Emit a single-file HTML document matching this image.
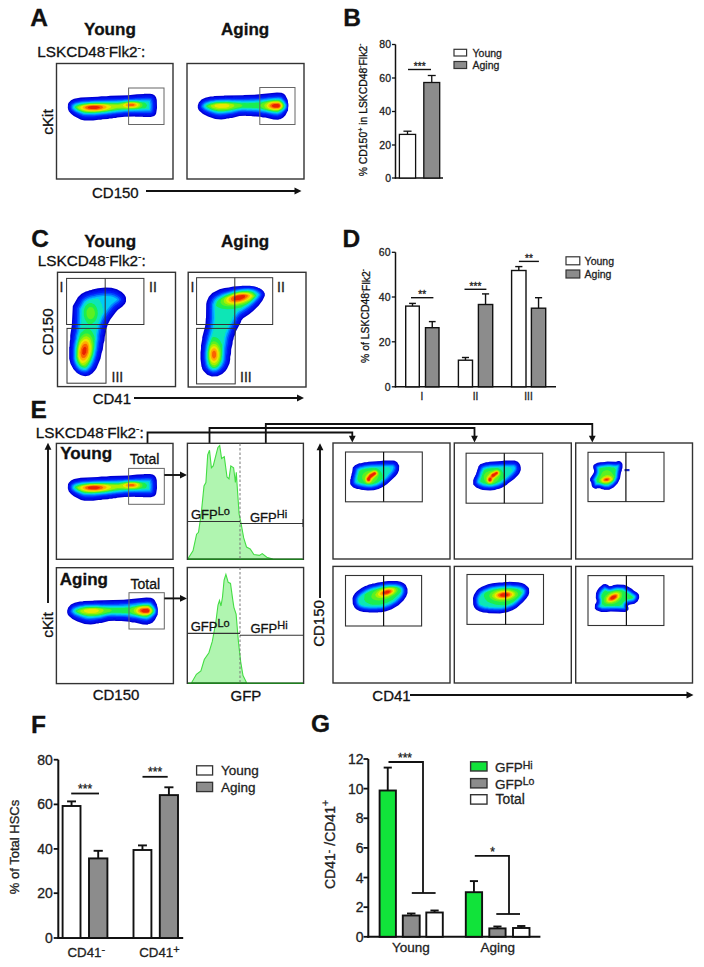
<!DOCTYPE html><html><head><meta charset="utf-8"><style>
html,body{margin:0;padding:0;background:#fff;}
body{width:704px;height:967px;overflow:hidden;}
svg{display:block;font-family:"Liberation Sans", sans-serif;}
</style></head><body>
<svg width="704" height="967" viewBox="0 0 704 967">
<defs><filter id="soft" x="-10%" y="-10%" width="120%" height="120%"><feGaussianBlur stdDeviation="0.45"/></filter></defs>
<rect width="704" height="967" fill="#fff"/>
<text x="30.2" y="26.3" font-size="24.5" font-weight="bold" text-anchor="start" fill="#111" stroke="#111" stroke-width="0.3" >A</text>
<text x="84" y="35" font-size="17.1" font-weight="bold" text-anchor="start" fill="#111" stroke="#111" stroke-width="0.3" >Young</text>
<text x="221" y="35" font-size="17" font-weight="bold" text-anchor="start" fill="#111" stroke="#111" stroke-width="0.3" >Aging</text>
<text x="37.3" y="56.8" font-size="15.3" text-anchor="start" fill="#111" stroke="#111" stroke-width="0.3" >LSKCD48<tspan font-size="10.1" dy="-6.1">-</tspan><tspan dy="6.1">Flk2</tspan><tspan font-size="10.1" dy="-6.1">-</tspan><tspan dy="6.1">:</tspan></text>
<rect x="56.5" y="63.5" width="116.5" height="115.5" fill="none" stroke="#333" stroke-width="1.4"/>
<rect x="187" y="63.5" width="117" height="115.5" fill="none" stroke="#333" stroke-width="1.4"/>
<g><g filter="url(#soft)"><path fill="rgb(0, 0, 210)" d="M156.8 100.0 156.0 97.2 154.8 95.5 152.8 94.2 150.0 93.8 144.0 93.8 143.8 94.0 137.0 94.2 128.2 95.2 110.2 95.8 106.5 96.2 101.5 96.2 97.8 96.8 80.8 97.5 74.0 98.8 71.0 100.2 68.8 102.5 68.0 104.0 67.8 108.0 68.8 111.2 71.0 113.8 73.8 116.0 81.0 119.8 84.5 120.5 93.2 120.5 98.5 119.8 101.0 119.8 102.5 119.2 108.0 119.0 109.5 118.5 112.0 118.5 113.5 118.0 115.8 118.0 117.2 117.5 124.8 116.8 135.0 116.5 135.2 116.8 142.8 116.8 143.0 117.0 150.8 117.0 154.2 116.0 155.5 114.8 156.2 113.2 157.0 108.0Z"/>
<path fill="rgb(0, 16, 234)" fill-rule="evenodd" d="M156.0 103.5 155.5 102.8 155.5 100.5 154.2 97.0 152.8 95.8 149.5 95.0 144.5 95.0 144.2 95.2 137.5 95.5 128.8 96.5 90.0 98.0 74.5 99.8 71.5 101.2 69.2 103.2 68.2 105.2 68.5 109.2 69.5 111.0 73.2 114.2 73.8 114.2 74.5 115.0 79.2 117.5 82.2 118.8 85.0 119.2 92.8 119.2 98.0 118.5 100.5 118.5 102.0 118.0 107.5 117.8 109.0 117.2 111.5 117.2 113.0 116.8 115.2 116.8 116.8 116.2 124.5 115.5 129.2 115.5 129.5 115.2 143.2 115.5 143.5 115.8 151.8 115.5 152.5 115.0 153.2 115.0 155.0 112.8 156.0 107.5Z"/>
<path fill="rgb(0, 27, 250)" fill-rule="evenodd" d="M154.5 103.5 154.0 100.0 153.0 97.8 151.5 96.8 149.8 96.5 144.2 96.5 140.8 97.0 137.0 97.0 136.8 97.2 129.2 97.5 129.0 97.8 123.8 97.8 123.5 98.0 93.8 99.0 93.5 99.2 81.8 99.8 74.2 101.2 71.8 102.5 70.2 104.0 69.5 105.5 69.5 108.0 70.2 110.0 74.0 113.2 82.2 117.2 84.8 117.8 93.0 117.8 98.5 117.0 101.0 117.0 102.5 116.5 111.0 116.0 112.5 115.5 114.8 115.5 116.5 115.0 124.2 114.2 128.8 114.2 129.0 114.0 150.5 114.2 152.5 113.8 153.8 112.0 154.5 107.8Z"/>
<path fill="rgb(0, 76, 255)" fill-rule="evenodd" d="M153.2 104.0 152.8 102.8 152.8 100.8 152.2 100.0 152.2 99.2 151.2 98.2 148.0 97.8 145.0 97.8 144.8 98.0 135.5 98.2 132.0 98.8 126.2 98.8 123.0 99.2 93.8 100.0 93.5 100.2 89.2 100.2 89.0 100.5 85.2 100.5 80.8 101.0 75.5 102.0 72.8 103.2 71.2 104.5 70.5 107.0 71.2 109.5 72.8 111.0 79.5 114.8 82.8 116.0 85.2 116.5 92.8 116.5 103.8 115.2 106.8 115.2 108.5 114.8 111.0 114.8 112.8 114.2 115.0 114.2 116.8 113.8 121.8 113.5 124.5 113.0 129.2 113.0 129.5 112.8 150.0 113.0 152.0 112.5 152.5 111.5 153.2 107.2Z"/>
<path fill="rgb(0, 141, 255)" fill-rule="evenodd" d="M151.8 103.5 150.8 99.5 149.5 99.2 141.0 99.2 140.8 99.5 135.2 99.2 135.0 99.5 124.5 99.8 122.2 100.2 117.5 100.2 117.2 100.5 91.8 101.0 91.5 101.2 81.8 101.8 75.0 103.2 72.5 104.8 71.8 106.0 71.8 107.8 72.2 109.0 75.2 111.5 83.5 115.0 94.8 115.2 124.0 112.0 134.0 111.8 134.2 111.5 135.5 111.8 150.2 111.5 151.0 111.2 151.5 109.8Z"/>
<path fill="rgb(0, 202, 248)" fill-rule="evenodd" d="M150.5 104.0 150.0 102.8 150.0 101.2 149.8 100.8 149.0 100.5 128.8 100.2 119.5 101.2 90.5 101.8 90.2 102.0 82.2 102.5 76.2 103.8 73.8 105.0 72.8 107.0 73.2 108.5 75.8 110.8 80.0 112.8 83.8 114.0 95.2 114.2 95.5 114.0 106.5 113.2 108.5 112.8 110.8 112.8 112.5 112.2 114.8 112.2 116.5 111.8 121.5 111.5 124.2 111.0 149.8 110.2 150.5 107.5Z"/>
<path fill="rgb(10, 230, 182)" fill-rule="evenodd" d="M149.2 104.2 148.5 101.8 142.2 101.5 136.2 100.8 129.5 100.8 117.5 102.2 93.5 102.2 93.2 102.5 86.0 102.8 78.5 104.0 74.8 105.5 74.0 106.2 74.2 108.2 77.0 110.5 83.2 113.0 85.8 113.5 95.2 113.5 95.5 113.2 103.8 112.8 119.8 110.5 139.0 109.8 141.8 109.2 148.8 109.0 149.2 107.2Z"/>
<path fill="rgb(27, 238, 80)" fill-rule="evenodd" d="M147.0 105.5 146.5 104.2 145.0 102.8 139.5 102.0 138.0 101.5 130.2 101.2 117.8 103.0 94.5 102.8 94.2 103.0 89.5 103.0 85.0 103.5 79.5 104.5 75.8 106.0 75.0 106.8 75.0 107.5 77.8 110.0 82.5 112.0 85.5 112.8 92.2 113.0 92.5 112.8 100.0 112.5 102.0 112.0 104.2 112.0 109.5 111.0 111.5 111.0 113.2 110.5 122.0 109.5 129.2 109.5 129.5 109.2 134.8 109.2 135.0 109.0 136.2 109.2 142.0 108.2 144.8 108.2 146.2 107.2Z"/>
<path fill="rgb(92, 240, 34)" fill-rule="evenodd" d="M142.5 104.2 141.2 103.0 134.2 101.8 128.0 102.0 118.2 103.8 108.5 103.8 108.2 103.5 106.5 103.8 106.2 103.5 99.5 103.5 99.2 103.2 98.5 103.5 90.0 103.5 87.5 104.0 85.2 104.0 79.5 105.2 76.8 106.5 76.2 107.5 78.5 109.5 81.5 111.0 84.8 112.0 95.5 112.2 107.0 111.0 108.5 110.5 118.8 109.0 133.5 108.8 138.5 108.2 141.2 107.2 142.5 106.0Z"/>
<path fill="rgb(168, 240, 1)" fill-rule="evenodd" d="M140.2 104.5 138.8 103.0 134.2 102.2 129.8 102.2 128.0 102.8 126.5 102.8 118.2 104.8 109.2 104.5 104.5 104.0 90.0 104.0 82.0 105.2 77.8 107.0 77.8 107.8 79.5 109.2 82.8 110.8 88.0 111.8 95.5 111.8 107.5 110.2 117.5 107.8 122.2 107.8 126.2 108.2 136.0 108.0 137.8 107.5 139.5 106.5 140.2 105.5Z"/>
<path fill="rgb(236, 232, 0)" fill-rule="evenodd" d="M80.2 107.8 81.2 109.0 85.5 110.5 88.5 111.0 95.0 111.2 95.2 111.0 100.5 110.8 106.2 109.5 110.5 107.8 111.2 106.8 110.5 106.0 107.8 105.0 103.2 104.5 94.0 104.2 93.8 104.5 89.8 104.5 82.8 105.8 80.8 106.5ZM123.0 105.8 123.8 106.5 125.8 107.2 129.0 107.8 132.5 107.8 135.5 107.2 137.8 106.2 138.5 105.2 138.5 104.5 137.5 103.5 136.2 103.0 129.5 102.8 124.2 104.0 123.0 105.0Z"/>
<path fill="rgb(255, 173, 0)" fill-rule="evenodd" d="M82.8 108.0 84.5 109.2 88.2 110.2 96.2 110.5 102.5 109.5 105.8 108.2 106.8 107.0 105.2 105.8 102.2 105.0 93.5 104.8 93.2 105.0 89.5 105.0 85.2 105.8 83.2 106.5 82.8 107.0ZM125.8 104.8 125.8 105.5 126.2 106.0 129.8 107.0 134.0 106.8 136.0 106.0 136.8 105.2 136.0 103.8 134.2 103.2 129.5 103.2 126.5 104.0Z"/>
<path fill="rgb(250, 99, 0)" fill-rule="evenodd" d="M85.0 107.8 85.8 108.5 88.5 109.5 96.8 109.8 102.0 108.5 103.2 107.5 103.2 107.0 101.8 106.0 99.8 105.5 93.2 105.2 87.0 106.0 85.5 106.8ZM128.2 104.8 128.2 105.2 129.5 106.0 133.2 106.0 134.8 105.0 134.2 104.2 133.0 103.8 130.0 103.8Z"/>
<path fill="rgb(233, 33, 0)" fill-rule="evenodd" d="M87.8 107.5 88.2 108.2 91.0 109.0 96.0 109.0 99.5 108.0 99.8 107.0 96.8 106.0 91.2 106.0 89.0 106.5 88.0 107.0Z"/></g></g>
<g><g filter="url(#soft)"><path fill="rgb(0, 0, 210)" d="M288.2 103.8 287.5 99.5 285.2 95.0 283.8 93.8 281.5 92.8 277.0 92.5 254.2 94.8 243.8 95.0 243.5 95.2 224.2 95.5 224.0 95.8 214.5 96.0 213.0 96.5 210.5 96.5 205.2 97.8 201.5 99.5 198.8 102.5 197.8 105.5 197.8 107.8 198.5 109.8 199.5 111.0 203.0 114.0 208.0 116.5 215.2 119.0 221.2 119.5 225.5 119.0 227.0 118.5 228.8 118.5 230.0 118.0 232.0 118.0 239.5 116.0 245.8 115.8 246.0 116.0 251.5 116.0 251.8 116.2 260.2 116.8 263.0 117.5 265.2 117.5 273.5 119.5 278.2 119.8 279.2 119.2 280.2 119.2 283.0 117.8 285.5 115.2 288.0 110.2Z"/>
<path fill="rgb(0, 16, 234)" fill-rule="evenodd" d="M288.2 103.8 287.5 100.5 284.2 95.8 281.0 94.0 277.5 93.8 254.8 96.0 244.2 96.2 244.0 96.5 233.2 96.5 233.0 96.8 224.8 96.5 224.5 96.8 215.0 97.0 213.5 97.5 211.0 97.5 204.2 99.2 201.2 101.0 199.0 104.0 198.5 105.8 198.5 107.2 199.2 109.2 202.8 112.5 207.8 115.0 215.8 117.8 220.8 118.2 225.0 117.8 226.5 117.2 228.2 117.2 229.5 116.8 231.5 116.8 239.0 114.8 246.2 114.5 246.5 114.8 252.0 114.8 252.2 115.0 260.8 115.5 263.5 116.2 265.8 116.2 274.0 118.2 277.8 118.5 278.8 118.0 279.8 118.0 282.5 116.5 288.0 110.2Z"/>
<path fill="rgb(0, 27, 250)" fill-rule="evenodd" d="M288.2 104.8 286.2 100.5 283.0 96.5 280.8 95.5 277.0 95.2 276.8 95.5 269.0 95.8 260.2 97.0 244.5 97.5 244.2 97.8 233.2 97.8 233.0 98.0 224.8 97.8 224.5 98.0 219.2 98.0 219.0 98.2 214.8 98.2 213.0 98.8 210.8 98.8 205.5 100.0 202.5 101.5 200.5 103.8 199.8 107.0 200.5 108.8 204.0 111.8 208.8 114.0 212.2 115.2 214.0 115.5 215.5 116.2 221.0 116.8 225.5 116.2 230.0 115.2 231.8 115.2 238.8 113.5 246.8 113.2 247.0 113.5 260.2 114.0 263.0 114.8 265.0 114.8 269.0 115.5 273.8 116.8 277.8 117.0 281.5 115.5 285.8 111.5 287.8 108.5 288.2 106.5Z"/>
<path fill="rgb(0, 76, 255)" fill-rule="evenodd" d="M287.2 104.2 285.2 100.8 282.2 97.5 280.8 96.8 275.8 96.5 275.5 96.8 269.0 97.0 265.5 97.8 263.0 97.8 257.8 98.5 250.2 98.5 250.0 98.8 244.5 98.8 244.2 99.0 224.8 98.8 224.5 99.0 219.2 99.0 219.0 99.2 214.8 99.2 213.0 99.8 211.0 99.8 206.0 101.0 203.5 102.2 201.8 104.0 201.0 106.0 201.0 107.0 201.5 108.0 204.2 110.5 207.2 112.0 213.2 114.2 217.8 115.2 220.5 115.5 225.0 115.0 230.0 114.0 231.8 114.0 239.0 112.2 246.8 112.0 247.0 112.2 255.2 112.2 260.2 112.8 263.2 113.5 265.2 113.5 274.0 115.5 277.2 115.8 279.2 115.2 281.5 114.0 286.0 109.8 287.2 107.2Z"/>
<path fill="rgb(0, 141, 255)" fill-rule="evenodd" d="M286.5 104.8 284.8 101.5 281.5 98.2 280.2 97.8 277.5 97.5 277.2 97.8 268.2 98.2 262.0 99.2 249.8 99.8 249.5 100.0 243.8 100.0 243.5 100.2 242.8 100.0 230.5 100.0 230.2 99.8 215.5 100.0 214.0 100.5 209.8 101.0 204.8 102.8 203.0 104.2 202.2 105.8 202.2 107.0 204.8 109.5 208.2 111.2 216.0 113.8 220.0 114.2 231.0 113.0 238.2 111.2 242.2 110.8 246.0 110.8 246.2 111.0 252.5 111.0 252.8 111.2 259.2 111.5 264.0 112.5 265.8 112.5 273.5 114.2 277.5 114.5 279.2 114.0 281.5 112.8 284.8 110.0 286.2 107.8Z"/>
<path fill="rgb(0, 202, 248)" fill-rule="evenodd" d="M285.8 105.0 283.8 101.5 281.2 99.2 278.8 98.5 274.2 98.5 266.2 99.8 264.2 99.8 261.0 100.5 254.5 100.8 254.2 101.0 241.0 101.2 240.8 101.0 235.5 101.0 235.2 100.8 232.8 101.0 228.0 100.5 216.5 100.8 213.0 101.5 211.2 101.5 206.5 103.0 204.2 104.5 203.8 105.2 203.5 106.8 205.5 108.8 208.5 110.2 214.2 112.2 218.0 113.0 223.0 113.0 231.0 112.0 235.5 110.8 242.0 109.8 246.8 109.8 247.0 110.0 251.5 109.8 251.8 110.0 255.8 110.0 260.5 110.5 272.0 113.0 277.5 113.5 281.8 111.5 284.8 108.8 285.5 107.5Z"/>
<path fill="rgb(10, 230, 182)" fill-rule="evenodd" d="M285.0 105.0 284.0 103.0 281.5 100.5 280.0 99.5 275.2 99.2 268.2 100.0 265.8 100.8 264.0 100.8 261.0 101.5 255.0 101.8 254.8 102.0 241.2 102.2 241.0 102.0 231.8 101.8 227.8 101.2 216.5 101.5 213.2 102.2 211.8 102.2 206.2 104.2 204.8 105.8 204.8 106.5 206.2 108.0 210.2 110.0 214.0 111.2 220.0 112.2 228.0 111.5 241.8 108.8 252.0 108.8 252.2 109.0 256.0 109.0 260.5 109.5 271.0 112.0 276.8 112.8 278.8 112.2 282.2 110.2 284.2 108.2 285.0 106.5Z"/>
<path fill="rgb(27, 238, 80)" fill-rule="evenodd" d="M284.2 105.2 282.8 102.5 279.8 100.2 273.8 100.0 268.2 100.8 261.0 102.5 255.5 102.8 255.2 103.0 249.5 103.0 249.2 103.2 246.0 103.2 245.8 103.0 241.2 103.2 228.2 102.0 216.0 102.2 209.8 103.8 206.8 105.2 206.0 106.2 207.8 107.8 210.8 109.2 213.5 110.2 218.0 111.2 223.2 111.2 227.8 110.8 241.8 107.8 252.2 107.8 252.5 108.0 256.2 108.0 260.5 108.5 269.8 111.0 277.0 112.0 278.8 111.5 282.5 109.2 284.0 107.2Z"/>
<path fill="rgb(92, 240, 34)" fill-rule="evenodd" d="M242.5 105.2 240.2 104.0 225.2 102.5 225.0 102.8 215.8 103.0 211.0 104.2 207.8 106.0 207.8 106.5 211.8 108.8 215.5 110.0 216.8 110.0 218.0 110.5 223.2 110.5 230.5 109.5 238.8 107.2 239.8 107.2 242.0 106.2ZM283.5 105.0 282.5 103.2 281.2 102.0 279.2 100.8 275.5 100.5 269.2 101.2 263.2 102.8 260.8 104.2 260.0 105.0 260.0 106.0 261.0 107.0 264.0 108.8 273.0 111.0 277.2 111.2 281.5 109.2 283.2 107.2Z"/>
<path fill="rgb(168, 240, 1)" fill-rule="evenodd" d="M210.8 105.5 211.0 106.5 213.0 108.0 218.5 109.2 227.0 109.0 231.8 107.8 234.2 106.2 234.2 105.0 233.2 104.2 226.0 103.2 220.2 103.2 215.8 103.8ZM264.2 105.2 264.8 107.0 266.2 108.2 269.0 109.5 273.5 110.5 278.5 110.2 281.5 108.5 282.8 106.5 282.8 105.0 282.2 104.0 280.5 102.2 278.8 101.2 273.2 101.2 268.8 102.0 266.0 103.2 264.8 104.2Z"/>
<path fill="rgb(236, 232, 0)" fill-rule="evenodd" d="M214.5 105.5 214.5 106.0 215.5 107.0 219.2 108.0 225.8 107.8 228.2 107.0 229.5 106.0 229.2 105.0 228.5 104.5 225.8 104.0 220.0 104.0 215.2 104.8ZM266.5 105.2 267.0 107.0 268.2 108.0 269.8 108.8 273.5 109.8 278.2 109.8 280.5 108.5 282.0 106.5 282.0 105.0 281.2 103.8 278.5 101.8 273.2 101.8 271.0 102.2 268.5 103.2Z"/>
<path fill="rgb(255, 173, 0)" fill-rule="evenodd" d="M268.5 105.0 268.5 106.5 269.5 107.5 271.5 108.5 273.8 109.0 278.5 109.0 280.2 108.0 281.2 106.2 281.0 104.5 279.5 103.0 278.5 102.5 272.2 102.8 269.8 103.8Z"/>
<path fill="rgb(250, 99, 0)" fill-rule="evenodd" d="M270.0 105.8 270.8 107.0 273.8 108.2 279.2 108.0 280.5 106.2 280.5 105.2 280.0 104.2 279.2 103.5 278.2 103.2 272.8 103.5 271.0 104.2Z"/>
<path fill="rgb(233, 33, 0)" fill-rule="evenodd" d="M272.0 105.2 272.0 106.2 272.5 106.8 274.5 107.5 277.8 107.5 279.5 106.8 279.8 105.8 279.5 104.8 277.8 104.0 274.2 104.0Z"/></g></g>
<rect x="128.6" y="88" width="35.400000000000006" height="36.5" fill="none" stroke="#666" stroke-width="1"/>
<rect x="259.8" y="87.5" width="35.19999999999999" height="37.0" fill="none" stroke="#666" stroke-width="1"/>
<text transform="translate(47.8,122) rotate(-90)" font-size="15.3" text-anchor="middle" dominant-baseline="central" fill="#111" stroke="#111" stroke-width="0.3">cKit</text>
<text x="92" y="198" font-size="15" text-anchor="start" fill="#111" stroke="#111" stroke-width="0.3" >CD150</text>
<line x1="146" y1="191" x2="295.5" y2="191" stroke="#111" stroke-width="1.9" />
<path d="M301.5 191 L294.5 187.6 L294.5 194.4 Z" fill="#111"/>
<text x="343.2" y="26.3" font-size="24.5" font-weight="bold" text-anchor="start" fill="#111" stroke="#111" stroke-width="0.3" >B</text>
<line x1="395.5" y1="44.5" x2="395.5" y2="178.7" stroke="#111" stroke-width="1.5" />
<line x1="394.8" y1="178" x2="443" y2="178" stroke="#111" stroke-width="1.5" />
<line x1="392" y1="44.5" x2="395.5" y2="44.5" stroke="#111" stroke-width="1.3" />
<text x="391" y="48.3" font-size="10.5" text-anchor="end" fill="#222" stroke="#222" stroke-width="0.3" >80</text>
<line x1="392" y1="78" x2="395.5" y2="78" stroke="#111" stroke-width="1.3" />
<text x="391" y="81.8" font-size="10.5" text-anchor="end" fill="#222" stroke="#222" stroke-width="0.3" >60</text>
<line x1="392" y1="111.5" x2="395.5" y2="111.5" stroke="#111" stroke-width="1.3" />
<text x="391" y="115.3" font-size="10.5" text-anchor="end" fill="#222" stroke="#222" stroke-width="0.3" >40</text>
<line x1="392" y1="145" x2="395.5" y2="145" stroke="#111" stroke-width="1.3" />
<text x="391" y="148.8" font-size="10.5" text-anchor="end" fill="#222" stroke="#222" stroke-width="0.3" >20</text>
<line x1="392" y1="178" x2="395.5" y2="178" stroke="#111" stroke-width="1.3" />
<text x="391" y="181.8" font-size="10.5" text-anchor="end" fill="#222" stroke="#222" stroke-width="0.3" >0</text>
<line x1="407.5" y1="134.4" x2="407.5" y2="131.2" stroke="#111" stroke-width="1.3" />
<line x1="403.45" y1="131.2" x2="411.55" y2="131.2" stroke="#111" stroke-width="1.3" />
<rect x="399.4" y="134.4" width="16.200000000000045" height="43.599999999999994" fill="#fff" stroke="#111" stroke-width="1.3"/>
<line x1="431.75" y1="82.5" x2="431.75" y2="75.5" stroke="#111" stroke-width="1.3" />
<line x1="427.775" y1="75.5" x2="435.725" y2="75.5" stroke="#111" stroke-width="1.3" />
<rect x="423.8" y="82.5" width="15.899999999999977" height="95.5" fill="#8c8c8c" stroke="#111" stroke-width="1.3"/>
<line x1="408" y1="69.5" x2="431" y2="69.5" stroke="#111" stroke-width="1.4" />
<text x="419.7" y="70" font-size="10" text-anchor="middle" fill="#222" stroke="#222" stroke-width="0.3" >***</text>
<rect x="454" y="49.3" width="12.600000000000023" height="6.700000000000003" fill="#fff" stroke="#333" stroke-width="1.2"/>
<rect x="454" y="61.5" width="12.600000000000023" height="7.0" fill="#8c8c8c" stroke="#333" stroke-width="1.2"/>
<text x="472.5" y="56.5" font-size="10.5" text-anchor="start" fill="#222" stroke="#222" stroke-width="0.3" >Young</text>
<text x="472.5" y="68.7" font-size="10.5" text-anchor="start" fill="#222" stroke="#222" stroke-width="0.3" >Aging</text>
<text transform="translate(363.3,110) rotate(-90)" font-size="10.4" text-anchor="middle" dominant-baseline="central" fill="#111" stroke="#111" stroke-width="0.3">% CD150<tspan font-size="7" dy="-3.8">+</tspan><tspan dy="3.8"> in </tspan>LSKCD48<tspan font-size="6.4" dy="-4.0">-</tspan><tspan dy="4.0">Flk2</tspan><tspan font-size="6.4" dy="-4.0">-</tspan></text>
<text x="31.2" y="247" font-size="24.5" font-weight="bold" text-anchor="start" fill="#111" stroke="#111" stroke-width="0.3" >C</text>
<text x="84.2" y="247" font-size="17.1" font-weight="bold" text-anchor="start" fill="#111" stroke="#111" stroke-width="0.3" >Young</text>
<text x="221" y="247" font-size="17" font-weight="bold" text-anchor="start" fill="#111" stroke="#111" stroke-width="0.3" >Aging</text>
<text x="37.8" y="266" font-size="15.3" text-anchor="start" fill="#111" stroke="#111" stroke-width="0.3" >LSKCD48<tspan font-size="10.1" dy="-6.1">-</tspan><tspan dy="6.1">Flk2</tspan><tspan font-size="10.1" dy="-6.1">-</tspan><tspan dy="6.1">:</tspan></text>
<rect x="57.5" y="272.3" width="118.0" height="114.30000000000001" fill="none" stroke="#333" stroke-width="1.4"/>
<rect x="188.2" y="272.3" width="117.80000000000001" height="114.69999999999999" fill="none" stroke="#333" stroke-width="1.4"/>
<g><g filter="url(#soft)"><path fill="rgb(0, 0, 210)" d="M117.0 289.2 111.5 287.8 105.5 287.5 98.0 288.2 92.2 289.5 91.5 290.0 89.5 290.2 88.0 291.0 85.8 291.5 81.5 293.8 78.0 297.0 72.8 306.0 71.8 325.2 70.2 335.5 70.2 339.2 69.8 341.2 69.5 346.8 69.2 347.0 69.2 358.8 70.5 363.8 73.5 369.2 77.0 373.0 81.0 375.2 85.2 376.2 89.2 375.5 92.5 373.2 95.2 370.2 96.5 368.2 100.5 358.8 101.5 353.5 102.8 349.5 103.5 343.8 104.5 340.5 104.8 336.8 106.0 331.8 106.0 330.0 108.0 324.0 110.2 319.8 115.8 312.2 118.0 309.8 122.2 306.8 125.0 303.8 126.0 301.5 126.0 298.2 125.8 297.0 124.5 294.8 121.8 292.0Z"/>
<path fill="rgb(0, 16, 234)" fill-rule="evenodd" d="M116.2 290.8 110.8 289.2 106.2 289.0 98.8 289.8 93.0 291.0 91.2 291.8 90.0 291.8 88.5 292.5 86.2 293.0 83.2 294.5 79.5 297.8 74.2 306.8 73.2 326.0 72.5 329.8 72.5 331.8 70.8 343.8 70.8 346.8 70.2 349.0 70.2 358.5 71.5 364.0 74.2 369.5 77.2 372.8 80.2 374.5 83.0 375.2 86.2 375.2 88.8 374.5 91.8 372.2 94.2 369.2 97.2 363.2 99.8 355.8 100.0 353.5 101.5 348.0 102.2 342.2 103.0 340.0 103.2 336.0 104.5 331.0 104.5 329.2 106.5 323.2 108.8 319.0 114.2 311.5 117.2 308.2 121.5 305.2 124.0 302.0 124.5 300.8 124.2 297.8 123.0 295.5 121.0 293.5Z"/>
<path fill="rgb(0, 27, 250)" fill-rule="evenodd" d="M115.5 292.2 110.8 291.0 106.2 290.8 98.5 291.5 97.2 292.0 93.8 292.5 93.0 293.0 91.0 293.2 87.0 294.5 84.0 296.0 81.0 298.5 75.8 307.5 75.0 325.5 73.2 335.8 72.5 343.0 72.0 344.5 71.8 350.8 71.5 351.0 71.5 358.2 72.5 363.2 74.2 367.0 76.2 370.0 77.8 371.5 80.2 373.0 84.5 374.0 86.5 373.8 88.5 373.0 93.0 368.5 95.0 364.8 96.8 360.5 98.5 354.5 98.8 352.2 100.0 347.8 100.5 343.0 101.2 340.8 101.5 336.8 102.8 331.2 102.8 329.5 105.0 322.5 109.5 314.8 113.0 310.2 116.0 307.0 120.2 304.0 122.2 301.8 122.8 300.5 122.5 298.0 121.0 295.8 117.5 293.2Z"/>
<path fill="rgb(0, 76, 255)" fill-rule="evenodd" d="M114.5 293.8 110.8 292.8 107.0 292.8 106.8 292.5 102.8 292.8 94.5 294.0 93.8 294.5 91.5 294.8 87.5 296.0 85.0 297.2 82.2 299.5 77.2 308.2 77.0 321.8 75.8 331.2 74.5 336.8 74.5 339.2 73.2 344.8 73.2 347.0 72.8 349.5 72.8 358.8 74.0 363.8 76.0 367.8 78.5 370.5 80.8 371.8 83.2 372.5 86.0 372.5 88.2 371.5 90.0 370.0 91.8 367.8 94.8 362.0 97.2 354.0 97.5 351.5 98.0 350.5 98.8 346.8 98.8 345.0 100.0 338.8 100.0 336.2 101.2 330.5 101.2 328.8 103.5 321.8 106.0 317.0 112.0 308.8 114.5 306.0 118.8 303.0 121.0 300.2 121.0 299.0 120.0 297.2 117.0 295.0Z"/>
<path fill="rgb(0, 141, 255)" fill-rule="evenodd" d="M114.2 295.5 110.8 294.5 105.8 294.2 96.5 295.2 94.5 296.0 92.0 296.2 88.8 297.2 85.2 299.0 83.0 301.0 80.5 306.0 79.0 308.2 78.2 325.5 77.2 329.8 77.2 331.2 76.0 336.0 75.8 339.2 75.2 340.2 74.5 344.0 73.8 350.5 73.8 358.5 74.8 362.8 76.8 366.8 79.2 369.5 81.5 370.8 83.8 371.2 85.8 371.2 87.5 370.5 90.2 367.8 91.8 365.5 93.5 361.8 95.5 356.0 96.8 350.5 97.8 342.5 98.5 339.5 98.5 336.2 99.8 328.2 100.5 325.0 102.0 321.0 105.8 314.2 110.2 308.2 114.0 304.2 118.2 301.2 119.2 300.0 119.2 299.2 117.8 297.5Z"/>
<path fill="rgb(0, 202, 248)" fill-rule="evenodd" d="M113.2 297.0 110.8 296.2 103.5 296.0 96.0 297.0 95.0 297.5 92.2 297.8 91.5 298.2 89.5 298.5 86.8 299.8 84.2 301.8 80.2 309.0 80.2 312.5 80.0 312.8 80.2 318.5 80.0 318.8 79.8 325.8 78.2 333.0 77.2 336.0 77.0 338.5 76.2 340.8 75.0 347.5 74.8 358.5 75.2 361.2 76.8 364.8 79.5 368.2 81.8 369.5 83.5 370.0 85.8 370.0 86.8 369.5 89.8 366.5 92.5 361.2 94.5 355.5 96.2 347.0 96.5 342.5 97.2 338.5 97.2 335.0 98.8 325.8 102.5 316.5 105.8 311.2 111.2 304.5 117.2 299.8 116.5 298.8Z"/>
<path fill="rgb(10, 230, 182)" fill-rule="evenodd" d="M98.0 298.5 93.5 299.0 91.5 299.8 89.5 300.0 86.5 301.5 84.8 303.5 81.8 309.2 81.2 325.8 76.2 345.2 75.5 351.2 75.5 358.0 76.2 361.2 78.2 365.2 80.8 367.8 83.5 368.8 85.8 368.8 87.5 367.5 90.2 363.8 92.2 359.2 93.8 354.5 95.2 346.8 95.5 341.2 96.0 338.5 96.0 334.0 97.0 326.8 99.5 319.5 102.0 314.2 103.2 312.5 103.2 310.0 102.0 304.8 100.0 300.8Z"/>
<path fill="rgb(27, 238, 80)" fill-rule="evenodd" d="M89.0 328.5 87.0 328.5 84.5 329.8 80.5 333.2 77.8 342.5 76.5 349.0 76.2 357.2 77.5 362.0 78.8 364.2 80.2 366.0 81.8 367.0 84.8 367.8 86.5 367.0 88.2 365.0 90.8 360.5 92.8 355.0 94.2 347.0 94.5 340.2 94.8 340.0 94.5 337.0 93.5 334.2 92.0 331.5ZM91.5 303.0 90.0 303.0 87.5 304.0 85.2 306.5 83.8 310.8 83.8 315.5 84.8 319.0 86.8 322.5 88.8 324.5 89.5 324.8 91.5 324.2 95.0 321.2 96.8 318.2 97.8 314.0 97.5 310.2 96.2 306.8 94.5 304.5Z"/>
<path fill="rgb(92, 240, 34)" fill-rule="evenodd" d="M88.0 333.5 85.5 333.5 84.2 334.0 82.8 335.0 80.2 337.8 78.2 343.8 77.2 349.0 77.0 356.5 77.8 360.2 79.2 363.2 81.0 365.2 82.2 366.0 84.2 366.5 85.5 366.5 87.5 364.5 90.2 359.5 92.0 354.5 93.2 348.0 93.5 344.2 93.0 341.0 92.0 337.8 90.2 335.0ZM89.8 307.0 88.8 307.5 87.0 309.8 86.5 311.2 86.5 314.8 87.5 317.2 88.5 318.5 90.0 319.2 91.2 319.2 93.0 318.2 93.8 317.2 94.8 315.0 95.0 312.5 94.0 309.0 92.2 307.2Z"/>
<path fill="rgb(168, 240, 1)" fill-rule="evenodd" d="M86.5 336.2 85.0 336.5 83.5 337.2 81.0 339.8 79.5 342.2 78.0 349.0 77.8 356.2 78.5 359.8 80.2 363.0 81.5 364.2 83.5 365.2 85.2 364.5 87.8 362.0 89.0 360.0 91.0 355.0 92.0 349.5 92.0 345.2 91.0 340.5 89.8 338.2 88.5 337.0Z"/>
<path fill="rgb(236, 232, 0)" fill-rule="evenodd" d="M86.2 338.8 83.8 339.5 81.5 341.8 79.5 345.5 78.8 348.8 78.5 356.2 79.0 358.8 80.5 361.8 81.5 362.8 82.5 363.0 85.0 362.2 87.2 360.0 89.2 356.2 90.5 351.5 90.8 346.5 90.2 343.5 88.8 340.2 87.2 339.0Z"/>
<path fill="rgb(255, 173, 0)" fill-rule="evenodd" d="M86.5 341.2 84.8 341.2 83.8 341.8 82.2 343.2 81.0 345.2 79.8 348.8 79.2 352.0 79.5 356.2 80.5 359.0 82.2 360.5 84.0 360.5 85.0 360.0 86.5 358.5 87.8 356.5 89.0 353.0 89.5 349.8 89.2 345.5 88.2 342.8Z"/>
<path fill="rgb(250, 99, 0)" fill-rule="evenodd" d="M86.2 343.8 84.0 344.0 82.2 346.0 81.0 349.0 80.5 352.2 80.8 355.0 81.5 357.0 82.5 358.0 84.8 357.8 86.5 355.8 87.8 352.8 88.2 349.5 88.0 346.8 87.2 344.8Z"/>
<path fill="rgb(233, 33, 0)" fill-rule="evenodd" d="M85.5 346.8 84.0 347.0 82.5 349.5 82.2 353.2 83.2 355.0 84.8 354.8 86.2 352.2 86.5 348.5Z"/></g></g>
<g><g filter="url(#soft)"><path fill="rgb(0, 0, 210)" d="M261.0 289.0 255.8 286.8 249.8 285.8 241.8 285.8 241.5 286.0 233.2 286.5 228.8 287.5 224.5 288.0 219.5 289.2 212.2 293.0 208.8 296.8 206.8 301.2 206.2 304.0 206.0 318.0 205.8 318.2 205.5 323.5 205.0 326.8 202.2 337.5 202.2 339.0 201.0 345.5 201.0 348.8 200.5 352.2 200.5 359.0 201.5 366.8 202.0 367.5 202.2 369.0 203.5 371.0 207.2 374.8 211.8 376.5 217.5 376.2 222.2 374.0 225.5 371.0 227.2 368.5 229.5 363.5 230.2 359.5 230.2 357.0 231.0 353.8 231.2 349.2 232.5 344.0 232.8 341.0 233.5 339.2 233.8 337.2 234.8 335.2 236.0 331.2 241.0 322.0 241.2 320.8 243.2 318.2 249.2 314.2 253.2 311.0 258.8 305.5 262.5 300.5 264.8 295.8 264.8 293.5 263.5 291.2Z"/>
<path fill="rgb(0, 16, 234)" fill-rule="evenodd" d="M260.5 289.0 255.8 287.0 249.5 286.0 242.0 286.2 238.5 287.0 234.2 287.2 220.0 290.5 213.0 294.2 209.8 297.8 208.0 301.8 207.5 304.5 207.5 307.8 207.2 308.0 207.5 318.2 207.2 318.5 207.0 323.8 205.2 332.0 203.5 338.2 203.5 339.8 202.2 346.0 202.2 349.0 201.8 352.5 201.8 358.5 202.8 366.2 203.2 367.0 203.5 368.5 204.8 370.5 208.0 373.8 212.8 375.5 215.5 375.5 217.5 375.0 221.8 372.8 224.2 370.2 226.0 367.8 228.0 363.5 228.8 359.5 228.8 357.0 229.5 353.8 229.5 351.0 230.8 345.2 231.2 340.8 232.0 339.0 232.2 337.0 233.2 335.0 234.5 331.0 238.2 324.2 240.5 319.2 243.0 316.5 244.2 316.0 245.2 315.0 248.5 313.0 252.5 309.8 260.0 302.0 263.2 297.2 264.0 295.2 264.0 293.2 263.0 291.2Z"/>
<path fill="rgb(0, 27, 250)" fill-rule="evenodd" d="M260.2 290.2 256.8 288.5 251.8 287.2 247.5 287.0 247.2 287.2 242.5 287.2 238.8 288.0 236.8 288.0 235.5 288.5 233.8 288.5 227.2 290.2 223.0 291.0 222.5 291.5 220.8 291.8 216.5 293.8 213.8 295.5 211.2 298.2 209.5 302.0 209.0 304.5 209.0 308.0 208.8 308.2 209.0 318.5 208.8 318.8 208.5 324.0 206.8 332.2 205.0 338.2 205.0 339.8 203.5 346.5 203.5 349.5 203.0 352.8 203.0 358.2 204.0 365.5 204.5 366.2 204.8 367.8 206.0 369.8 208.8 372.5 212.2 374.0 216.0 374.0 217.5 373.5 221.0 371.5 223.2 369.2 224.8 367.0 226.5 363.5 227.0 361.2 227.5 355.5 228.0 353.8 228.2 349.0 229.5 343.8 229.8 340.5 231.0 335.8 232.0 333.8 233.2 329.8 238.2 320.5 238.5 319.2 242.2 315.0 243.5 314.5 244.5 313.5 247.5 311.8 251.2 308.8 252.2 307.5 253.0 307.2 260.2 299.5 262.8 295.0 262.8 293.8 262.0 292.2Z"/>
<path fill="rgb(0, 76, 255)" fill-rule="evenodd" d="M257.0 289.8 253.2 288.5 249.5 288.0 244.2 288.0 232.8 289.8 221.2 293.0 214.8 296.5 212.2 299.2 210.8 302.8 210.5 304.5 210.5 308.0 210.2 308.2 210.5 309.0 210.5 318.8 209.8 326.0 207.8 334.2 207.0 335.8 206.5 339.2 205.8 341.5 205.5 344.0 204.8 346.5 204.5 352.0 204.2 352.2 204.2 358.5 205.2 365.2 206.2 367.8 209.2 371.2 212.8 372.8 216.5 372.5 219.8 370.8 222.2 368.2 223.8 366.0 225.2 362.8 225.8 360.2 226.0 356.2 226.8 352.8 226.8 349.2 228.0 343.5 228.5 339.0 229.2 337.2 229.5 335.2 230.5 333.2 231.8 329.2 236.8 320.0 237.0 318.8 239.5 315.5 240.8 314.2 246.2 310.8 250.5 307.5 251.2 306.5 252.2 306.0 258.5 299.8 260.8 296.5 261.5 295.0 261.5 294.2 260.8 292.8 259.8 291.5Z"/>
<path fill="rgb(0, 141, 255)" fill-rule="evenodd" d="M256.5 290.8 253.5 289.5 248.8 288.8 242.2 289.0 234.5 290.2 222.0 294.0 216.8 296.8 213.8 299.5 212.0 304.0 212.0 308.0 211.8 308.2 212.0 309.0 212.0 319.0 211.2 326.2 206.2 344.8 205.2 352.5 205.2 358.2 206.2 364.5 208.2 368.5 210.5 370.5 213.0 371.5 216.0 371.2 219.2 369.5 222.2 366.0 224.0 362.2 224.5 360.2 225.5 348.2 227.2 337.8 230.5 328.2 235.5 319.0 235.8 317.8 238.8 314.0 240.5 312.5 249.5 306.5 254.5 302.2 258.2 298.2 260.0 295.5 260.2 294.5 259.0 292.5Z"/>
<path fill="rgb(0, 202, 248)" fill-rule="evenodd" d="M255.8 291.5 252.8 290.2 247.8 289.5 240.0 290.0 236.0 291.0 234.8 291.0 223.0 294.8 217.5 297.8 214.8 300.5 213.2 304.8 213.8 318.0 213.0 325.5 210.5 335.2 209.8 336.5 207.8 343.2 206.2 351.8 206.2 358.5 207.0 363.5 208.2 366.5 209.2 368.0 210.8 369.2 212.8 370.2 216.0 370.0 218.2 368.8 221.2 365.5 222.8 362.2 223.5 359.2 224.2 347.5 225.8 337.5 226.8 333.8 227.8 331.8 229.0 327.8 234.0 318.5 234.2 317.2 237.8 312.8 240.0 311.0 240.5 311.0 248.5 305.8 253.8 301.5 257.2 297.8 259.0 294.8 258.0 293.2Z"/>
<path fill="rgb(10, 230, 182)" fill-rule="evenodd" d="M254.5 292.0 252.2 291.0 248.0 290.2 241.8 290.5 234.8 291.8 224.8 295.0 217.5 299.2 216.0 301.0 214.8 304.5 215.2 318.2 214.5 325.8 213.0 332.0 211.5 336.5 210.5 338.2 210.5 339.0 208.0 346.0 207.0 352.5 207.0 358.0 208.0 363.5 209.2 366.2 211.2 368.2 214.0 369.2 215.5 369.0 217.0 368.2 219.8 365.8 221.8 362.0 222.5 359.0 222.5 356.8 223.0 354.2 223.0 348.5 224.2 337.2 225.0 335.5 225.2 333.2 226.2 331.2 227.5 327.2 231.2 320.5 233.0 316.2 237.2 311.2 249.8 303.5 256.2 297.5 257.5 294.8 256.8 293.8Z"/>
<path fill="rgb(27, 238, 80)" fill-rule="evenodd" d="M213.8 337.0 212.5 337.2 212.0 338.0 208.8 346.5 207.8 352.5 207.8 357.5 208.8 362.8 209.8 365.2 212.0 367.5 213.2 368.0 215.0 368.0 217.5 366.8 218.8 365.5 221.2 360.5 222.0 355.0 222.2 344.8 220.0 340.5 217.8 338.2 215.8 337.2ZM256.2 295.2 253.5 292.5 251.0 291.5 248.2 291.0 242.8 291.0 233.5 292.8 225.2 295.8 219.5 299.2 217.0 301.8 216.0 305.5 217.2 306.8 219.8 308.0 222.5 308.8 227.0 309.2 233.0 309.0 241.2 307.5 247.0 304.2 250.5 301.8 255.2 297.2Z"/>
<path fill="rgb(92, 240, 34)" fill-rule="evenodd" d="M213.5 341.2 211.5 342.2 209.5 347.0 208.5 352.5 208.5 357.8 209.2 361.5 210.8 365.0 212.2 366.5 213.5 367.0 214.8 367.0 216.8 366.0 218.8 364.0 220.5 360.2 221.2 354.5 221.2 350.8 220.2 347.0 218.2 343.5 215.5 341.5ZM255.0 296.0 254.5 295.0 252.8 293.2 251.2 292.5 248.2 291.8 239.8 292.0 232.5 293.8 226.8 296.0 223.5 297.8 220.8 299.8 220.5 302.8 222.2 304.8 224.2 305.8 226.2 306.2 234.0 306.5 237.5 306.0 242.8 304.8 246.8 303.2 250.8 300.5Z"/>
<path fill="rgb(168, 240, 1)" fill-rule="evenodd" d="M213.2 344.0 212.0 344.5 211.0 345.5 210.2 347.2 209.2 352.0 209.2 358.0 210.0 361.2 211.0 363.8 212.8 365.0 214.5 365.2 216.0 364.8 217.8 363.0 219.0 360.8 220.0 356.5 220.0 352.5 219.0 348.5 217.5 345.8 216.5 344.8 215.0 344.0ZM253.8 296.2 252.0 294.0 248.0 292.5 242.8 292.2 239.0 292.8 233.8 294.0 225.2 297.8 223.8 299.8 223.8 302.0 225.5 303.8 228.5 304.8 234.2 305.0 238.0 304.5 243.8 303.0 249.8 300.2Z"/>
<path fill="rgb(236, 232, 0)" fill-rule="evenodd" d="M213.0 346.2 211.2 347.8 210.2 350.0 209.8 353.2 209.8 356.2 210.5 360.2 211.5 361.8 212.8 362.8 214.8 363.0 217.0 361.2 218.0 359.5 218.8 356.5 218.8 352.8 218.0 349.8 216.8 347.5 215.0 346.2ZM252.0 295.8 251.0 294.8 248.8 293.5 246.2 293.0 241.8 293.0 237.0 293.8 233.5 294.8 227.5 297.5 226.2 299.5 226.2 301.0 227.5 302.5 230.0 303.5 235.2 303.8 238.8 303.2 243.2 302.0 247.2 300.2 250.2 298.2 251.5 297.0Z"/>
<path fill="rgb(255, 173, 0)" fill-rule="evenodd" d="M214.5 348.2 213.0 348.5 211.8 349.8 211.0 351.2 210.5 353.8 210.5 355.5 211.2 358.5 212.8 360.5 214.0 361.0 216.0 360.0 217.0 358.2 217.5 356.5 217.2 351.5 216.2 349.5 215.2 348.5ZM250.0 295.8 249.0 294.8 246.0 293.8 240.5 293.8 234.0 295.2 230.5 296.8 229.0 298.2 228.5 300.2 229.8 301.8 232.0 302.5 237.0 302.5 239.8 302.0 243.8 300.8 246.8 299.2 249.0 297.5Z"/>
<path fill="rgb(250, 99, 0)" fill-rule="evenodd" d="M213.5 350.8 212.2 352.2 212.0 356.0 212.8 357.8 213.8 358.5 214.5 358.5 216.0 356.5 216.2 353.8 215.5 351.5 214.5 350.8ZM248.0 295.5 246.2 294.8 243.5 294.2 237.2 295.0 232.8 296.5 231.2 298.0 230.8 299.2 231.8 300.8 234.2 301.5 236.8 301.5 239.8 301.0 244.5 299.2 247.5 296.8Z"/>
<path fill="rgb(233, 33, 0)" fill-rule="evenodd" d="M245.2 295.5 242.8 295.0 237.0 295.8 234.8 296.8 233.8 297.8 233.5 299.2 234.5 300.0 235.8 300.2 240.2 299.8 244.0 298.0 245.0 297.0Z"/></g></g>
<rect x="66.6" y="278.4" width="77.30000000000001" height="46.10000000000002" fill="none" stroke="#333" stroke-width="1"/>
<line x1="105.2" y1="278.4" x2="105.2" y2="324.5" stroke="#333" stroke-width="1" />
<rect x="67" y="328.4" width="39" height="54.80000000000001" fill="none" stroke="#333" stroke-width="1"/>
<rect x="196.6" y="277.7" width="76.1" height="46.80000000000001" fill="none" stroke="#333" stroke-width="1"/>
<line x1="234.8" y1="277.7" x2="234.8" y2="324.5" stroke="#333" stroke-width="1" />
<rect x="196.6" y="328.4" width="38.599999999999994" height="55.5" fill="none" stroke="#333" stroke-width="1"/>
<text x="59.5" y="292.2" font-size="14" text-anchor="start" fill="#222" stroke="#222" stroke-width="0.3" >I</text>
<text x="149" y="292.2" font-size="14" text-anchor="start" fill="#222" stroke="#222" stroke-width="0.3" >II</text>
<text x="111.5" y="382.2" font-size="14" text-anchor="start" fill="#222" stroke="#222" stroke-width="0.3" >III</text>
<text x="190.5" y="292.2" font-size="14" text-anchor="start" fill="#222" stroke="#222" stroke-width="0.3" >I</text>
<text x="277" y="292.2" font-size="14" text-anchor="start" fill="#222" stroke="#222" stroke-width="0.3" >II</text>
<text x="240" y="382.2" font-size="14" text-anchor="start" fill="#222" stroke="#222" stroke-width="0.3" >III</text>
<text transform="translate(47.3,331.8) rotate(-90)" font-size="15" text-anchor="middle" dominant-baseline="central" fill="#111" stroke="#111" stroke-width="0.3">CD150</text>
<text x="92.7" y="403.6" font-size="15" text-anchor="start" fill="#111" stroke="#111" stroke-width="0.3" >CD41</text>
<line x1="134" y1="398" x2="298" y2="398" stroke="#111" stroke-width="1.9" />
<path d="M304 398 L297 394.6 L297 401.4 Z" fill="#111"/>
<text x="342.5" y="247.1" font-size="24.5" font-weight="bold" text-anchor="start" fill="#111" stroke="#111" stroke-width="0.3" >D</text>
<line x1="395.5" y1="252.3" x2="395.5" y2="387.5" stroke="#111" stroke-width="1.5" />
<line x1="394.8" y1="386.8" x2="556" y2="386.8" stroke="#111" stroke-width="1.5" />
<line x1="391.8" y1="252.3" x2="395.5" y2="252.3" stroke="#111" stroke-width="1.3" />
<text x="390.5" y="256.1" font-size="10.5" text-anchor="end" fill="#222" stroke="#222" stroke-width="0.3" >60</text>
<line x1="391.8" y1="297" x2="395.5" y2="297" stroke="#111" stroke-width="1.3" />
<text x="390.5" y="300.8" font-size="10.5" text-anchor="end" fill="#222" stroke="#222" stroke-width="0.3" >40</text>
<line x1="391.8" y1="341.8" x2="395.5" y2="341.8" stroke="#111" stroke-width="1.3" />
<text x="390.5" y="345.6" font-size="10.5" text-anchor="end" fill="#222" stroke="#222" stroke-width="0.3" >20</text>
<line x1="391.8" y1="386.8" x2="395.5" y2="386.8" stroke="#111" stroke-width="1.3" />
<text x="390.5" y="390.6" font-size="10.5" text-anchor="end" fill="#222" stroke="#222" stroke-width="0.3" >0</text>
<line x1="412.5" y1="306.1" x2="412.5" y2="303.4" stroke="#111" stroke-width="1.4" />
<line x1="409.1" y1="303.4" x2="415.9" y2="303.4" stroke="#111" stroke-width="1.4" />
<rect x="405.7" y="306.1" width="13.600000000000023" height="80.69999999999999" fill="#fff" stroke="#111" stroke-width="1.4"/>
<line x1="432.25" y1="327.7" x2="432.25" y2="321.6" stroke="#111" stroke-width="1.4" />
<line x1="428.875" y1="321.6" x2="435.625" y2="321.6" stroke="#111" stroke-width="1.4" />
<rect x="425.5" y="327.7" width="13.5" height="59.10000000000002" fill="#8c8c8c" stroke="#111" stroke-width="1.4"/>
<line x1="465.45" y1="360.2" x2="465.45" y2="357.5" stroke="#111" stroke-width="1.4" />
<line x1="461.92499999999995" y1="357.5" x2="468.975" y2="357.5" stroke="#111" stroke-width="1.4" />
<rect x="458.4" y="360.2" width="14.100000000000023" height="26.600000000000023" fill="#fff" stroke="#111" stroke-width="1.4"/>
<line x1="485.54999999999995" y1="304.5" x2="485.54999999999995" y2="293.9" stroke="#111" stroke-width="1.4" />
<line x1="481.97499999999997" y1="293.9" x2="489.12499999999994" y2="293.9" stroke="#111" stroke-width="1.4" />
<rect x="478.4" y="304.5" width="14.300000000000011" height="82.30000000000001" fill="#8c8c8c" stroke="#111" stroke-width="1.4"/>
<line x1="518.8" y1="270.5" x2="518.8" y2="266.6" stroke="#111" stroke-width="1.4" />
<line x1="515.1999999999999" y1="266.6" x2="522.4" y2="266.6" stroke="#111" stroke-width="1.4" />
<rect x="511.6" y="270.5" width="14.399999999999977" height="116.30000000000001" fill="#fff" stroke="#111" stroke-width="1.4"/>
<line x1="538.55" y1="308.2" x2="538.55" y2="297.7" stroke="#111" stroke-width="1.4" />
<line x1="534.9749999999999" y1="297.7" x2="542.125" y2="297.7" stroke="#111" stroke-width="1.4" />
<rect x="531.4" y="308.2" width="14.300000000000068" height="78.60000000000002" fill="#8c8c8c" stroke="#111" stroke-width="1.4"/>
<line x1="411" y1="297.7" x2="433.4" y2="297.7" stroke="#111" stroke-width="1.4" />
<text x="422.2" y="298.2" font-size="10" text-anchor="middle" fill="#222" stroke="#222" stroke-width="0.3" >**</text>
<line x1="464.5" y1="289.3" x2="486.4" y2="289.3" stroke="#111" stroke-width="1.4" />
<text x="475.45" y="289.8" font-size="10" text-anchor="middle" fill="#222" stroke="#222" stroke-width="0.3" >***</text>
<line x1="518.9" y1="261.4" x2="538.9" y2="261.4" stroke="#111" stroke-width="1.4" />
<text x="528.9" y="261.9" font-size="10" text-anchor="middle" fill="#222" stroke="#222" stroke-width="0.3" >**</text>
<text x="422" y="400" font-size="10" text-anchor="middle" fill="#222" stroke="#222" stroke-width="0.3" >I</text>
<text x="475.5" y="400" font-size="10" text-anchor="middle" fill="#222" stroke="#222" stroke-width="0.3" >II</text>
<text x="528.5" y="400" font-size="10" text-anchor="middle" fill="#222" stroke="#222" stroke-width="0.3" >III</text>
<rect x="566" y="256.8" width="13.799999999999955" height="8.0" fill="#fff" stroke="#333" stroke-width="1.2"/>
<rect x="566" y="270" width="13.799999999999955" height="8" fill="#8c8c8c" stroke="#333" stroke-width="1.2"/>
<text x="584.6" y="265" font-size="10.5" text-anchor="start" fill="#222" stroke="#222" stroke-width="0.3" >Young</text>
<text x="584.6" y="278.2" font-size="10.5" text-anchor="start" fill="#222" stroke="#222" stroke-width="0.3" >Aging</text>
<text transform="translate(365.8,316) rotate(-90)" font-size="10.4" text-anchor="middle" dominant-baseline="central" fill="#111" stroke="#111" stroke-width="0.3">% of LSKCD48<tspan font-size="6.4" dy="-4.0">-</tspan><tspan dy="4.0">Flk2</tspan><tspan font-size="6.4" dy="-4.0">-</tspan></text>
<text x="30.4" y="418.2" font-size="24.5" font-weight="bold" text-anchor="start" fill="#111" stroke="#111" stroke-width="0.3" >E</text>
<text x="35.8" y="437.7" font-size="15.3" text-anchor="start" fill="#111" stroke="#111" stroke-width="0.3" >LSKCD48<tspan font-size="10.1" dy="-6.1">-</tspan><tspan dy="6.1">Flk2</tspan><tspan font-size="10.1" dy="-6.1">-</tspan><tspan dy="6.1">:</tspan></text>
<path d="M147.5 443.5 V432.5 H352.3 V437" stroke="#111" stroke-width="1.8" fill="none" />
<path d="M352.3 442.5 L348.9 435.8 L355.7 435.8 Z" fill="#111"/>
<path d="M209.5 443.5 V428 H474.5 V437" stroke="#111" stroke-width="1.8" fill="none" />
<path d="M474.5 442.5 L471.1 435.8 L477.9 435.8 Z" fill="#111"/>
<path d="M265.8 443.5 V424 H592.3 V437" stroke="#111" stroke-width="1.8" fill="none" />
<path d="M592.3 442.5 L588.9 435.8 L595.7 435.8 Z" fill="#111"/>
<rect x="56.4" y="443.4" width="116.6" height="115.89999999999998" fill="none" stroke="#333" stroke-width="1.4"/>
<g transform="translate(0,380.2)"><g filter="url(#soft)"><path fill="rgb(0, 0, 210)" d="M156.8 100.0 156.0 97.2 154.8 95.5 152.8 94.2 150.0 93.8 144.0 93.8 143.8 94.0 137.0 94.2 128.2 95.2 110.2 95.8 106.5 96.2 101.5 96.2 97.8 96.8 80.8 97.5 74.0 98.8 71.0 100.2 68.8 102.5 68.0 104.0 67.8 108.0 68.8 111.2 71.0 113.8 73.8 116.0 81.0 119.8 84.5 120.5 93.2 120.5 98.5 119.8 101.0 119.8 102.5 119.2 108.0 119.0 109.5 118.5 112.0 118.5 113.5 118.0 115.8 118.0 117.2 117.5 124.8 116.8 135.0 116.5 135.2 116.8 142.8 116.8 143.0 117.0 150.8 117.0 154.2 116.0 155.5 114.8 156.2 113.2 157.0 108.0Z"/>
<path fill="rgb(0, 16, 234)" fill-rule="evenodd" d="M156.0 103.5 155.5 102.8 155.5 100.5 154.2 97.0 152.8 95.8 149.5 95.0 144.5 95.0 144.2 95.2 137.5 95.5 128.8 96.5 90.0 98.0 74.5 99.8 71.5 101.2 69.2 103.2 68.2 105.2 68.5 109.2 69.5 111.0 73.2 114.2 73.8 114.2 74.5 115.0 79.2 117.5 82.2 118.8 85.0 119.2 92.8 119.2 98.0 118.5 100.5 118.5 102.0 118.0 107.5 117.8 109.0 117.2 111.5 117.2 113.0 116.8 115.2 116.8 116.8 116.2 124.5 115.5 129.2 115.5 129.5 115.2 143.2 115.5 143.5 115.8 151.8 115.5 152.5 115.0 153.2 115.0 155.0 112.8 156.0 107.5Z"/>
<path fill="rgb(0, 27, 250)" fill-rule="evenodd" d="M154.5 103.5 154.0 100.0 153.0 97.8 151.5 96.8 149.8 96.5 144.2 96.5 140.8 97.0 137.0 97.0 136.8 97.2 129.2 97.5 129.0 97.8 123.8 97.8 123.5 98.0 93.8 99.0 93.5 99.2 81.8 99.8 74.2 101.2 71.8 102.5 70.2 104.0 69.5 105.5 69.5 108.0 70.2 110.0 74.0 113.2 82.2 117.2 84.8 117.8 93.0 117.8 98.5 117.0 101.0 117.0 102.5 116.5 111.0 116.0 112.5 115.5 114.8 115.5 116.5 115.0 124.2 114.2 128.8 114.2 129.0 114.0 150.5 114.2 152.5 113.8 153.8 112.0 154.5 107.8Z"/>
<path fill="rgb(0, 76, 255)" fill-rule="evenodd" d="M153.2 104.0 152.8 102.8 152.8 100.8 152.2 100.0 152.2 99.2 151.2 98.2 148.0 97.8 145.0 97.8 144.8 98.0 135.5 98.2 132.0 98.8 126.2 98.8 123.0 99.2 93.8 100.0 93.5 100.2 89.2 100.2 89.0 100.5 85.2 100.5 80.8 101.0 75.5 102.0 72.8 103.2 71.2 104.5 70.5 107.0 71.2 109.5 72.8 111.0 79.5 114.8 82.8 116.0 85.2 116.5 92.8 116.5 103.8 115.2 106.8 115.2 108.5 114.8 111.0 114.8 112.8 114.2 115.0 114.2 116.8 113.8 121.8 113.5 124.5 113.0 129.2 113.0 129.5 112.8 150.0 113.0 152.0 112.5 152.5 111.5 153.2 107.2Z"/>
<path fill="rgb(0, 141, 255)" fill-rule="evenodd" d="M151.8 103.5 150.8 99.5 149.5 99.2 141.0 99.2 140.8 99.5 135.2 99.2 135.0 99.5 124.5 99.8 122.2 100.2 117.5 100.2 117.2 100.5 91.8 101.0 91.5 101.2 81.8 101.8 75.0 103.2 72.5 104.8 71.8 106.0 71.8 107.8 72.2 109.0 75.2 111.5 83.5 115.0 94.8 115.2 124.0 112.0 134.0 111.8 134.2 111.5 135.5 111.8 150.2 111.5 151.0 111.2 151.5 109.8Z"/>
<path fill="rgb(0, 202, 248)" fill-rule="evenodd" d="M150.5 104.0 150.0 102.8 150.0 101.2 149.8 100.8 149.0 100.5 128.8 100.2 119.5 101.2 90.5 101.8 90.2 102.0 82.2 102.5 76.2 103.8 73.8 105.0 72.8 107.0 73.2 108.5 75.8 110.8 80.0 112.8 83.8 114.0 95.2 114.2 95.5 114.0 106.5 113.2 108.5 112.8 110.8 112.8 112.5 112.2 114.8 112.2 116.5 111.8 121.5 111.5 124.2 111.0 149.8 110.2 150.5 107.5Z"/>
<path fill="rgb(10, 230, 182)" fill-rule="evenodd" d="M149.2 104.2 148.5 101.8 142.2 101.5 136.2 100.8 129.5 100.8 117.5 102.2 93.5 102.2 93.2 102.5 86.0 102.8 78.5 104.0 74.8 105.5 74.0 106.2 74.2 108.2 77.0 110.5 83.2 113.0 85.8 113.5 95.2 113.5 95.5 113.2 103.8 112.8 119.8 110.5 139.0 109.8 141.8 109.2 148.8 109.0 149.2 107.2Z"/>
<path fill="rgb(27, 238, 80)" fill-rule="evenodd" d="M147.0 105.5 146.5 104.2 145.0 102.8 139.5 102.0 138.0 101.5 130.2 101.2 117.8 103.0 94.5 102.8 94.2 103.0 89.5 103.0 85.0 103.5 79.5 104.5 75.8 106.0 75.0 106.8 75.0 107.5 77.8 110.0 82.5 112.0 85.5 112.8 92.2 113.0 92.5 112.8 100.0 112.5 102.0 112.0 104.2 112.0 109.5 111.0 111.5 111.0 113.2 110.5 122.0 109.5 129.2 109.5 129.5 109.2 134.8 109.2 135.0 109.0 136.2 109.2 142.0 108.2 144.8 108.2 146.2 107.2Z"/>
<path fill="rgb(92, 240, 34)" fill-rule="evenodd" d="M142.5 104.2 141.2 103.0 134.2 101.8 128.0 102.0 118.2 103.8 108.5 103.8 108.2 103.5 106.5 103.8 106.2 103.5 99.5 103.5 99.2 103.2 98.5 103.5 90.0 103.5 87.5 104.0 85.2 104.0 79.5 105.2 76.8 106.5 76.2 107.5 78.5 109.5 81.5 111.0 84.8 112.0 95.5 112.2 107.0 111.0 108.5 110.5 118.8 109.0 133.5 108.8 138.5 108.2 141.2 107.2 142.5 106.0Z"/>
<path fill="rgb(168, 240, 1)" fill-rule="evenodd" d="M140.2 104.5 138.8 103.0 134.2 102.2 129.8 102.2 128.0 102.8 126.5 102.8 118.2 104.8 109.2 104.5 104.5 104.0 90.0 104.0 82.0 105.2 77.8 107.0 77.8 107.8 79.5 109.2 82.8 110.8 88.0 111.8 95.5 111.8 107.5 110.2 117.5 107.8 122.2 107.8 126.2 108.2 136.0 108.0 137.8 107.5 139.5 106.5 140.2 105.5Z"/>
<path fill="rgb(236, 232, 0)" fill-rule="evenodd" d="M80.2 107.8 81.2 109.0 85.5 110.5 88.5 111.0 95.0 111.2 95.2 111.0 100.5 110.8 106.2 109.5 110.5 107.8 111.2 106.8 110.5 106.0 107.8 105.0 103.2 104.5 94.0 104.2 93.8 104.5 89.8 104.5 82.8 105.8 80.8 106.5ZM123.0 105.8 123.8 106.5 125.8 107.2 129.0 107.8 132.5 107.8 135.5 107.2 137.8 106.2 138.5 105.2 138.5 104.5 137.5 103.5 136.2 103.0 129.5 102.8 124.2 104.0 123.0 105.0Z"/>
<path fill="rgb(255, 173, 0)" fill-rule="evenodd" d="M82.8 108.0 84.5 109.2 88.2 110.2 96.2 110.5 102.5 109.5 105.8 108.2 106.8 107.0 105.2 105.8 102.2 105.0 93.5 104.8 93.2 105.0 89.5 105.0 85.2 105.8 83.2 106.5 82.8 107.0ZM125.8 104.8 125.8 105.5 126.2 106.0 129.8 107.0 134.0 106.8 136.0 106.0 136.8 105.2 136.0 103.8 134.2 103.2 129.5 103.2 126.5 104.0Z"/>
<path fill="rgb(250, 99, 0)" fill-rule="evenodd" d="M85.0 107.8 85.8 108.5 88.5 109.5 96.8 109.8 102.0 108.5 103.2 107.5 103.2 107.0 101.8 106.0 99.8 105.5 93.2 105.2 87.0 106.0 85.5 106.8ZM128.2 104.8 128.2 105.2 129.5 106.0 133.2 106.0 134.8 105.0 134.2 104.2 133.0 103.8 130.0 103.8Z"/>
<path fill="rgb(233, 33, 0)" fill-rule="evenodd" d="M87.8 107.5 88.2 108.2 91.0 109.0 96.0 109.0 99.5 108.0 99.8 107.0 96.8 106.0 91.2 106.0 89.0 106.5 88.0 107.0Z"/></g></g>
<rect x="128.6" y="468.4" width="35.70000000000002" height="35.900000000000034" fill="none" stroke="#666" stroke-width="1"/>
<text x="60.2" y="459.3" font-size="17.1" font-weight="bold" text-anchor="start" fill="#111" stroke="#111" stroke-width="0.3" >Young</text>
<text x="129.8" y="464.3" font-size="14" text-anchor="start" fill="#111" stroke="#111" stroke-width="0.3" >Total</text>
<line x1="164.3" y1="475" x2="181" y2="475" stroke="#111" stroke-width="1.9" />
<path d="M187 475 L180 471.6 L180 478.4 Z" fill="#111"/>
<rect x="56.4" y="567.7" width="117.0" height="115.89999999999998" fill="none" stroke="#333" stroke-width="1.4"/>
<g transform="translate(-130.6,504.9)"><g filter="url(#soft)"><path fill="rgb(0, 0, 210)" d="M288.2 103.8 287.5 99.5 285.2 95.0 283.8 93.8 281.5 92.8 277.0 92.5 254.2 94.8 243.8 95.0 243.5 95.2 224.2 95.5 224.0 95.8 214.5 96.0 213.0 96.5 210.5 96.5 205.2 97.8 201.5 99.5 198.8 102.5 197.8 105.5 197.8 107.8 198.5 109.8 199.5 111.0 203.0 114.0 208.0 116.5 215.2 119.0 221.2 119.5 225.5 119.0 227.0 118.5 228.8 118.5 230.0 118.0 232.0 118.0 239.5 116.0 245.8 115.8 246.0 116.0 251.5 116.0 251.8 116.2 260.2 116.8 263.0 117.5 265.2 117.5 273.5 119.5 278.2 119.8 279.2 119.2 280.2 119.2 283.0 117.8 285.5 115.2 288.0 110.2Z"/>
<path fill="rgb(0, 16, 234)" fill-rule="evenodd" d="M288.2 103.8 287.5 100.5 284.2 95.8 281.0 94.0 277.5 93.8 254.8 96.0 244.2 96.2 244.0 96.5 233.2 96.5 233.0 96.8 224.8 96.5 224.5 96.8 215.0 97.0 213.5 97.5 211.0 97.5 204.2 99.2 201.2 101.0 199.0 104.0 198.5 105.8 198.5 107.2 199.2 109.2 202.8 112.5 207.8 115.0 215.8 117.8 220.8 118.2 225.0 117.8 226.5 117.2 228.2 117.2 229.5 116.8 231.5 116.8 239.0 114.8 246.2 114.5 246.5 114.8 252.0 114.8 252.2 115.0 260.8 115.5 263.5 116.2 265.8 116.2 274.0 118.2 277.8 118.5 278.8 118.0 279.8 118.0 282.5 116.5 288.0 110.2Z"/>
<path fill="rgb(0, 27, 250)" fill-rule="evenodd" d="M288.2 104.8 286.2 100.5 283.0 96.5 280.8 95.5 277.0 95.2 276.8 95.5 269.0 95.8 260.2 97.0 244.5 97.5 244.2 97.8 233.2 97.8 233.0 98.0 224.8 97.8 224.5 98.0 219.2 98.0 219.0 98.2 214.8 98.2 213.0 98.8 210.8 98.8 205.5 100.0 202.5 101.5 200.5 103.8 199.8 107.0 200.5 108.8 204.0 111.8 208.8 114.0 212.2 115.2 214.0 115.5 215.5 116.2 221.0 116.8 225.5 116.2 230.0 115.2 231.8 115.2 238.8 113.5 246.8 113.2 247.0 113.5 260.2 114.0 263.0 114.8 265.0 114.8 269.0 115.5 273.8 116.8 277.8 117.0 281.5 115.5 285.8 111.5 287.8 108.5 288.2 106.5Z"/>
<path fill="rgb(0, 76, 255)" fill-rule="evenodd" d="M287.2 104.2 285.2 100.8 282.2 97.5 280.8 96.8 275.8 96.5 275.5 96.8 269.0 97.0 265.5 97.8 263.0 97.8 257.8 98.5 250.2 98.5 250.0 98.8 244.5 98.8 244.2 99.0 224.8 98.8 224.5 99.0 219.2 99.0 219.0 99.2 214.8 99.2 213.0 99.8 211.0 99.8 206.0 101.0 203.5 102.2 201.8 104.0 201.0 106.0 201.0 107.0 201.5 108.0 204.2 110.5 207.2 112.0 213.2 114.2 217.8 115.2 220.5 115.5 225.0 115.0 230.0 114.0 231.8 114.0 239.0 112.2 246.8 112.0 247.0 112.2 255.2 112.2 260.2 112.8 263.2 113.5 265.2 113.5 274.0 115.5 277.2 115.8 279.2 115.2 281.5 114.0 286.0 109.8 287.2 107.2Z"/>
<path fill="rgb(0, 141, 255)" fill-rule="evenodd" d="M286.5 104.8 284.8 101.5 281.5 98.2 280.2 97.8 277.5 97.5 277.2 97.8 268.2 98.2 262.0 99.2 249.8 99.8 249.5 100.0 243.8 100.0 243.5 100.2 242.8 100.0 230.5 100.0 230.2 99.8 215.5 100.0 214.0 100.5 209.8 101.0 204.8 102.8 203.0 104.2 202.2 105.8 202.2 107.0 204.8 109.5 208.2 111.2 216.0 113.8 220.0 114.2 231.0 113.0 238.2 111.2 242.2 110.8 246.0 110.8 246.2 111.0 252.5 111.0 252.8 111.2 259.2 111.5 264.0 112.5 265.8 112.5 273.5 114.2 277.5 114.5 279.2 114.0 281.5 112.8 284.8 110.0 286.2 107.8Z"/>
<path fill="rgb(0, 202, 248)" fill-rule="evenodd" d="M285.8 105.0 283.8 101.5 281.2 99.2 278.8 98.5 274.2 98.5 266.2 99.8 264.2 99.8 261.0 100.5 254.5 100.8 254.2 101.0 241.0 101.2 240.8 101.0 235.5 101.0 235.2 100.8 232.8 101.0 228.0 100.5 216.5 100.8 213.0 101.5 211.2 101.5 206.5 103.0 204.2 104.5 203.8 105.2 203.5 106.8 205.5 108.8 208.5 110.2 214.2 112.2 218.0 113.0 223.0 113.0 231.0 112.0 235.5 110.8 242.0 109.8 246.8 109.8 247.0 110.0 251.5 109.8 251.8 110.0 255.8 110.0 260.5 110.5 272.0 113.0 277.5 113.5 281.8 111.5 284.8 108.8 285.5 107.5Z"/>
<path fill="rgb(10, 230, 182)" fill-rule="evenodd" d="M285.0 105.0 284.0 103.0 281.5 100.5 280.0 99.5 275.2 99.2 268.2 100.0 265.8 100.8 264.0 100.8 261.0 101.5 255.0 101.8 254.8 102.0 241.2 102.2 241.0 102.0 231.8 101.8 227.8 101.2 216.5 101.5 213.2 102.2 211.8 102.2 206.2 104.2 204.8 105.8 204.8 106.5 206.2 108.0 210.2 110.0 214.0 111.2 220.0 112.2 228.0 111.5 241.8 108.8 252.0 108.8 252.2 109.0 256.0 109.0 260.5 109.5 271.0 112.0 276.8 112.8 278.8 112.2 282.2 110.2 284.2 108.2 285.0 106.5Z"/>
<path fill="rgb(27, 238, 80)" fill-rule="evenodd" d="M284.2 105.2 282.8 102.5 279.8 100.2 273.8 100.0 268.2 100.8 261.0 102.5 255.5 102.8 255.2 103.0 249.5 103.0 249.2 103.2 246.0 103.2 245.8 103.0 241.2 103.2 228.2 102.0 216.0 102.2 209.8 103.8 206.8 105.2 206.0 106.2 207.8 107.8 210.8 109.2 213.5 110.2 218.0 111.2 223.2 111.2 227.8 110.8 241.8 107.8 252.2 107.8 252.5 108.0 256.2 108.0 260.5 108.5 269.8 111.0 277.0 112.0 278.8 111.5 282.5 109.2 284.0 107.2Z"/>
<path fill="rgb(92, 240, 34)" fill-rule="evenodd" d="M242.5 105.2 240.2 104.0 225.2 102.5 225.0 102.8 215.8 103.0 211.0 104.2 207.8 106.0 207.8 106.5 211.8 108.8 215.5 110.0 216.8 110.0 218.0 110.5 223.2 110.5 230.5 109.5 238.8 107.2 239.8 107.2 242.0 106.2ZM283.5 105.0 282.5 103.2 281.2 102.0 279.2 100.8 275.5 100.5 269.2 101.2 263.2 102.8 260.8 104.2 260.0 105.0 260.0 106.0 261.0 107.0 264.0 108.8 273.0 111.0 277.2 111.2 281.5 109.2 283.2 107.2Z"/>
<path fill="rgb(168, 240, 1)" fill-rule="evenodd" d="M210.8 105.5 211.0 106.5 213.0 108.0 218.5 109.2 227.0 109.0 231.8 107.8 234.2 106.2 234.2 105.0 233.2 104.2 226.0 103.2 220.2 103.2 215.8 103.8ZM264.2 105.2 264.8 107.0 266.2 108.2 269.0 109.5 273.5 110.5 278.5 110.2 281.5 108.5 282.8 106.5 282.8 105.0 282.2 104.0 280.5 102.2 278.8 101.2 273.2 101.2 268.8 102.0 266.0 103.2 264.8 104.2Z"/>
<path fill="rgb(236, 232, 0)" fill-rule="evenodd" d="M214.5 105.5 214.5 106.0 215.5 107.0 219.2 108.0 225.8 107.8 228.2 107.0 229.5 106.0 229.2 105.0 228.5 104.5 225.8 104.0 220.0 104.0 215.2 104.8ZM266.5 105.2 267.0 107.0 268.2 108.0 269.8 108.8 273.5 109.8 278.2 109.8 280.5 108.5 282.0 106.5 282.0 105.0 281.2 103.8 278.5 101.8 273.2 101.8 271.0 102.2 268.5 103.2Z"/>
<path fill="rgb(255, 173, 0)" fill-rule="evenodd" d="M268.5 105.0 268.5 106.5 269.5 107.5 271.5 108.5 273.8 109.0 278.5 109.0 280.2 108.0 281.2 106.2 281.0 104.5 279.5 103.0 278.5 102.5 272.2 102.8 269.8 103.8Z"/>
<path fill="rgb(250, 99, 0)" fill-rule="evenodd" d="M270.0 105.8 270.8 107.0 273.8 108.2 279.2 108.0 280.5 106.2 280.5 105.2 280.0 104.2 279.2 103.5 278.2 103.2 272.8 103.5 271.0 104.2Z"/>
<path fill="rgb(233, 33, 0)" fill-rule="evenodd" d="M272.0 105.2 272.0 106.2 272.5 106.8 274.5 107.5 277.8 107.5 279.5 106.8 279.8 105.8 279.5 104.8 277.8 104.0 274.2 104.0Z"/></g></g>
<rect x="129" y="592.7" width="35.30000000000001" height="36.299999999999955" fill="none" stroke="#666" stroke-width="1"/>
<text x="59.8" y="584.5" font-size="17" font-weight="bold" text-anchor="start" fill="#111" stroke="#111" stroke-width="0.3" >Aging</text>
<text x="130.5" y="589.3" font-size="14" text-anchor="start" fill="#111" stroke="#111" stroke-width="0.3" >Total</text>
<line x1="164.3" y1="598.4" x2="181" y2="598.4" stroke="#111" stroke-width="1.9" />
<path d="M187 598.4 L180 595.0 L180 601.8 Z" fill="#111"/>
<path d="M188.3 559.3 L188.3 558.2 L193 550.8 L196.6 534.2 L198.5 532.3 L201.2 513.9 L204 486 L205.9 482.5 L207.7 454.8 L209.5 450.2 L211.4 467.7 L213.2 465.9 L216 454.8 L217.9 447.4 L219.7 445.5 L221.6 458.5 L224.3 456.6 L227 477 L229 478.8 L230.8 465.9 L233.6 467.7 L235.4 482.5 L236.3 472.3 L237.2 486.2 L239.1 513.9 L241 523 L243.7 537.9 L246.5 547 L250.2 549 L253.9 554.5 L259.4 555.4 L262.2 553.6 L266.8 557.3 L272.3 559 L272.3 559.3 Z" stroke="#44dd44" stroke-width="1.1" fill="#b0f5b0" />
<path d="M191.8 683 L191.8 682.3 L196.4 674.3 L200.9 671 L204.3 659.5 L208.9 652.7 L212.3 641.4 L215.7 623.2 L218 605 L219.5 600.5 L221 606 L222.5 597 L224.1 580 L225.9 574.3 L228.2 582.3 L230.5 583.4 L232.7 599.3 L233.9 607.3 L236.1 614 L238.4 641.4 L240.7 661.8 L243 675.5 L246.4 682.3 L246.4 683 Z" stroke="#44dd44" stroke-width="1.1" fill="#b0f5b0" />
<rect x="187.4" y="443.3" width="115.99999999999997" height="115.99999999999994" fill="none" stroke="#333" stroke-width="1.4"/>
<rect x="187.3" y="567.5" width="116.30000000000001" height="115.79999999999995" fill="none" stroke="#333" stroke-width="1.4"/>
<line x1="188" y1="559.3" x2="302.8" y2="559.3" stroke="#1f7f1f" stroke-width="1.5" />
<line x1="188" y1="683.3" x2="303" y2="683.3" stroke="#1f7f1f" stroke-width="1.5" />
<line x1="240" y1="443.5" x2="240" y2="559" stroke="#777" stroke-width="1" stroke-dasharray="2.5 2"/>
<line x1="240" y1="567.5" x2="240" y2="683" stroke="#777" stroke-width="1" stroke-dasharray="2.5 2"/>
<line x1="187.4" y1="521.5" x2="240" y2="521.5" stroke="#333" stroke-width="1.1" />
<line x1="240" y1="523.5" x2="303" y2="523.5" stroke="#333" stroke-width="1.1" />
<line x1="187.3" y1="633.4" x2="240" y2="633.4" stroke="#333" stroke-width="1.1" />
<line x1="240" y1="635.2" x2="303.6" y2="635.2" stroke="#333" stroke-width="1.1" />
<line x1="303" y1="519" x2="303" y2="527" stroke="#333" stroke-width="1" />
<text x="191" y="519" font-size="13" text-anchor="start" fill="#111" stroke="#111" stroke-width="0.3" >GFP<tspan font-size="11" dy="-3.8">Lo</tspan></text>
<text x="250" y="521.5" font-size="13" text-anchor="start" fill="#111" stroke="#111" stroke-width="0.3" >GFP<tspan font-size="11" dy="-3.8">Hi</tspan></text>
<text x="190.7" y="631" font-size="13" text-anchor="start" fill="#111" stroke="#111" stroke-width="0.3" >GFP<tspan font-size="11" dy="-3.8">Lo</tspan></text>
<text x="250.5" y="633" font-size="13" text-anchor="start" fill="#111" stroke="#111" stroke-width="0.3" >GFP<tspan font-size="11" dy="-3.8">Hi</tspan></text>
<line x1="48" y1="603" x2="48" y2="448.8" stroke="#111" stroke-width="1.9" />
<path d="M48 442.8 L44.6 449.8 L51.4 449.8 Z" fill="#111"/>
<text transform="translate(47,625) rotate(-90)" font-size="15.3" text-anchor="middle" dominant-baseline="central" fill="#111" stroke="#111" stroke-width="0.3">cKit</text>
<text x="92.7" y="700" font-size="15" text-anchor="start" fill="#111" stroke="#111" stroke-width="0.3" >CD150</text>
<text x="230.5" y="700.5" font-size="15" text-anchor="start" fill="#111" stroke="#111" stroke-width="0.3" >GFP</text>
<line x1="320" y1="598" x2="320" y2="449.3" stroke="#111" stroke-width="1.9" />
<path d="M320 443.3 L316.6 450.3 L323.4 450.3 Z" fill="#111"/>
<text transform="translate(318.6,623.5) rotate(-90)" font-size="15" text-anchor="middle" dominant-baseline="central" fill="#111" stroke="#111" stroke-width="0.3">CD150</text>
<text x="372.3" y="700.5" font-size="15" text-anchor="start" fill="#111" stroke="#111" stroke-width="0.3" >CD41</text>
<line x1="410" y1="695" x2="687.5" y2="695" stroke="#111" stroke-width="1.9" />
<path d="M693.5 695 L686.5 691.6 L686.5 698.4 Z" fill="#111"/>
<rect x="333" y="443" width="117" height="116" fill="none" stroke="#333" stroke-width="1.4"/>
<rect x="333" y="566.4" width="117" height="116.60000000000002" fill="none" stroke="#333" stroke-width="1.4"/>
<rect x="454.3" y="443" width="116.99999999999994" height="116" fill="none" stroke="#333" stroke-width="1.4"/>
<rect x="454.3" y="566.4" width="116.99999999999994" height="116.60000000000002" fill="none" stroke="#333" stroke-width="1.4"/>
<rect x="575.7" y="443" width="116.79999999999995" height="116" fill="none" stroke="#333" stroke-width="1.4"/>
<rect x="575.7" y="566.4" width="116.79999999999995" height="116.60000000000002" fill="none" stroke="#333" stroke-width="1.4"/>
<g><g filter="url(#soft)"><path fill="rgb(0, 0, 210)" d="M399.2 465.8 397.2 462.2 394.8 460.8 393.2 460.5 383.5 460.5 381.0 461.0 368.5 461.8 366.8 462.2 364.5 462.2 361.0 463.2 359.2 463.2 355.0 465.2 352.8 467.5 352.2 472.2 351.5 474.0 351.5 475.2 350.8 477.0 350.8 478.5 350.2 479.5 350.2 483.8 350.8 485.0 353.2 487.5 357.0 489.0 358.8 489.0 361.2 489.8 367.8 490.5 373.8 490.2 378.5 489.0 382.8 487.0 387.2 484.0 395.5 476.2 397.5 473.8 399.0 470.2Z"/>
<path fill="rgb(0, 16, 234)" fill-rule="evenodd" d="M398.2 466.2 396.8 463.2 394.2 461.8 392.8 461.5 383.8 461.5 381.0 462.0 378.0 461.8 374.5 462.2 371.2 462.2 364.5 463.0 361.0 464.0 359.5 464.0 355.2 466.0 353.5 467.8 353.2 470.8 352.8 471.5 352.8 472.8 352.0 474.5 351.5 478.5 351.0 479.8 351.0 483.2 351.5 484.5 353.8 486.8 357.2 488.2 358.8 488.2 361.5 489.2 368.0 490.0 371.5 490.0 378.2 488.5 382.5 486.5 386.8 483.5 394.5 475.8 396.5 473.2 398.0 469.8Z"/>
<path fill="rgb(0, 27, 250)" fill-rule="evenodd" d="M397.0 466.5 396.0 464.5 395.0 463.5 392.8 462.8 382.0 462.8 377.2 463.2 376.8 463.0 371.5 463.2 364.8 464.0 361.5 465.0 360.0 465.0 356.2 466.8 354.5 468.5 354.5 470.0 353.2 474.0 353.2 475.2 352.8 476.2 352.5 479.0 352.0 480.2 352.0 482.0 352.5 484.0 354.2 485.8 355.8 486.5 362.0 488.2 368.0 489.0 371.5 489.0 378.0 487.5 382.0 485.5 386.2 482.5 393.5 475.2 396.0 471.8 397.0 469.0Z"/>
<path fill="rgb(0, 76, 255)" fill-rule="evenodd" d="M395.8 466.8 395.0 465.2 393.2 464.0 388.8 464.0 388.5 463.8 384.0 463.8 381.0 464.2 380.8 464.0 371.8 464.2 364.8 465.0 361.5 466.0 360.2 466.0 355.8 468.5 355.0 472.5 353.5 477.5 353.2 479.8 353.5 483.5 355.0 485.0 356.8 485.5 357.2 486.0 365.8 487.8 371.5 488.0 377.2 486.8 380.5 485.2 385.8 481.5 390.2 477.0 394.8 471.5 395.8 469.0Z"/>
<path fill="rgb(0, 141, 255)" fill-rule="evenodd" d="M394.8 467.2 393.8 465.5 392.2 465.0 371.8 465.2 364.8 466.0 361.8 467.0 360.5 467.0 356.8 469.0 355.0 475.8 355.0 477.0 354.5 478.0 354.2 482.5 355.5 484.0 358.2 485.2 363.8 486.5 367.8 487.0 371.8 487.0 377.0 485.8 381.0 483.8 387.0 478.8 391.0 474.5 393.5 471.2 394.8 468.2Z"/>
<path fill="rgb(0, 202, 248)" fill-rule="evenodd" d="M393.5 467.5 393.0 466.5 392.5 466.2 384.0 466.0 383.8 466.2 368.2 466.5 361.0 468.0 358.2 469.2 357.5 470.0 355.5 478.5 355.2 482.0 356.2 483.2 362.2 485.2 365.0 485.5 366.5 486.0 371.0 486.2 376.5 485.0 381.0 482.5 386.0 478.2 392.2 471.0Z"/>
<path fill="rgb(10, 230, 182)" fill-rule="evenodd" d="M356.2 481.8 357.0 482.5 360.5 483.8 367.5 485.2 371.5 485.2 375.8 484.2 379.2 482.5 383.8 479.0 391.0 470.8 391.0 470.0 389.0 467.2 369.5 467.2 367.5 467.8 365.8 467.8 361.0 469.0 358.8 470.2 358.2 471.0 357.5 474.8 357.0 475.8Z"/>
<path fill="rgb(27, 238, 80)" fill-rule="evenodd" d="M382.0 473.8 380.8 471.5 378.5 469.2 376.0 468.0 374.8 468.2 372.2 468.0 365.5 468.8 361.8 469.8 360.2 470.5 359.2 471.5 358.0 476.0 357.5 479.2 358.8 481.8 359.8 482.5 367.2 484.5 372.2 484.2 375.8 483.2 378.2 482.0 382.5 478.5 382.5 475.2Z"/>
<path fill="rgb(92, 240, 34)" fill-rule="evenodd" d="M378.2 471.5 376.2 470.0 373.0 469.8 370.8 470.5 368.5 470.8 365.2 472.0 363.2 473.8 362.2 475.8 362.2 478.2 363.2 480.8 365.5 483.2 366.8 483.8 369.8 484.0 371.8 483.5 373.5 482.5 376.8 479.8 378.5 476.2 379.0 473.5Z"/>
<path fill="rgb(168, 240, 1)" fill-rule="evenodd" d="M376.5 471.0 375.0 470.5 373.0 470.8 369.0 472.5 366.2 474.8 364.8 477.5 364.8 480.0 366.2 482.5 367.8 483.2 369.5 483.2 371.5 482.0 373.0 479.5 377.8 474.8 378.0 473.2 377.5 472.0Z"/>
<path fill="rgb(236, 232, 0)" fill-rule="evenodd" d="M376.2 471.5 373.5 471.2 369.0 473.5 367.5 475.0 366.0 477.0 365.5 478.5 365.8 480.5 366.8 482.0 367.8 482.5 370.0 482.2 371.0 481.2 372.5 478.5 377.0 474.8 377.2 472.8Z"/>
<path fill="rgb(255, 173, 0)" fill-rule="evenodd" d="M375.8 471.8 374.8 471.5 373.5 471.8 370.0 473.5 367.0 476.8 366.2 478.2 366.2 480.2 367.5 481.8 369.0 482.0 370.0 481.5 371.2 479.0 376.5 474.5 376.8 473.0Z"/>
<path fill="rgb(250, 99, 0)" fill-rule="evenodd" d="M375.0 472.0 373.5 472.2 369.5 474.5 366.8 478.5 366.8 480.0 367.8 481.2 369.8 481.0 371.0 478.2 376.0 474.2 376.2 473.0Z"/>
<path fill="rgb(233, 33, 0)" fill-rule="evenodd" d="M375.0 472.5 374.2 472.5 369.8 475.0 369.2 476.2 367.8 477.8 367.2 478.8 367.2 479.8 368.0 480.8 369.0 480.8 369.8 480.0 370.2 478.2 375.5 474.0 375.8 473.2Z"/></g></g>
<g><g filter="url(#soft)"><path fill="rgb(0, 0, 210)" d="M520.2 465.0 519.2 463.2 517.8 461.8 514.8 460.5 504.5 460.5 502.0 461.0 489.5 461.8 488.0 462.2 486.0 462.2 480.2 464.2 478.2 466.8 478.2 467.8 477.8 468.5 476.0 474.2 474.0 478.0 473.2 480.2 473.2 484.5 476.2 487.5 481.0 489.5 483.0 490.0 490.2 490.5 495.0 490.0 495.8 489.5 500.0 488.5 503.2 487.0 506.8 484.8 508.0 483.5 514.2 479.0 518.2 475.0 519.5 473.2 520.8 470.0 520.8 467.5Z"/>
<path fill="rgb(0, 16, 234)" fill-rule="evenodd" d="M519.2 465.5 517.2 462.8 514.2 461.5 504.8 461.5 502.0 462.0 499.0 461.8 498.8 462.0 489.5 462.5 486.0 463.0 481.2 464.5 478.8 467.0 478.8 468.0 477.5 470.2 476.2 474.5 475.0 476.8 473.8 480.8 474.0 484.2 476.5 486.8 481.5 489.0 483.5 489.5 490.0 490.0 495.0 489.5 495.8 489.0 500.0 488.0 506.5 484.2 507.5 483.0 513.8 478.2 517.2 474.5 518.5 472.8 519.8 469.5Z"/>
<path fill="rgb(0, 27, 250)" fill-rule="evenodd" d="M518.0 465.8 516.5 463.8 514.2 462.8 503.0 462.8 502.8 463.0 492.8 463.2 486.2 464.0 482.2 465.2 480.2 466.8 478.8 470.0 475.0 480.2 475.0 483.8 477.0 485.8 480.0 487.2 483.8 488.5 490.0 489.0 494.8 488.5 499.2 487.2 502.2 485.8 506.0 483.2 506.8 482.2 509.2 480.5 515.8 474.5 517.8 471.8 518.5 469.2Z"/>
<path fill="rgb(0, 76, 255)" fill-rule="evenodd" d="M517.0 466.5 516.5 465.5 515.0 464.2 510.0 463.8 489.8 464.5 488.2 465.0 486.2 465.0 482.5 466.2 481.0 467.5 479.0 472.2 478.2 475.0 476.5 478.8 476.5 479.8 476.0 480.8 476.0 483.0 477.8 485.0 480.2 486.2 484.0 487.5 490.2 488.0 490.5 487.8 493.2 487.8 499.0 486.2 503.2 484.0 505.5 482.2 506.0 481.5 510.8 477.8 515.2 473.2 517.2 469.2Z"/>
<path fill="rgb(0, 141, 255)" fill-rule="evenodd" d="M515.8 466.5 515.2 465.8 513.8 465.0 502.8 465.0 502.5 465.2 499.2 465.0 499.0 465.2 489.8 465.5 484.0 466.8 481.8 468.2 480.0 472.2 479.0 475.8 477.2 480.0 477.0 481.2 477.2 483.0 479.0 484.5 482.5 486.0 485.8 486.8 491.8 487.0 498.2 485.5 503.2 482.8 512.5 474.5 515.5 470.8 516.2 468.5Z"/>
<path fill="rgb(0, 202, 248)" fill-rule="evenodd" d="M514.8 467.2 513.8 466.2 508.0 466.2 507.8 466.0 500.0 466.2 499.5 466.0 499.2 466.2 489.5 466.5 488.0 467.0 486.5 467.0 483.5 468.0 482.8 468.5 482.5 469.8 481.5 471.2 480.2 474.5 479.8 476.8 478.2 480.2 478.0 481.8 478.2 482.8 483.2 485.2 488.8 486.2 492.5 486.0 498.0 484.5 502.2 482.2 513.0 472.2 514.5 470.0 515.0 468.5Z"/>
<path fill="rgb(10, 230, 182)" fill-rule="evenodd" d="M512.8 470.5 510.5 467.2 499.8 467.2 499.5 467.0 499.2 467.2 496.8 467.0 496.2 467.2 490.5 467.2 489.0 467.8 487.2 467.8 483.5 469.2 482.0 472.5 479.5 479.8 479.2 482.2 484.0 484.5 485.2 484.5 486.2 485.0 487.8 485.0 489.2 485.5 489.5 485.2 492.0 485.2 496.2 484.2 500.0 482.5 502.5 480.8 509.5 474.2Z"/>
<path fill="rgb(27, 238, 80)" fill-rule="evenodd" d="M503.8 474.2 501.8 470.5 500.8 469.5 498.0 468.0 495.5 468.0 495.2 468.2 493.5 468.0 487.0 468.8 484.2 470.0 482.5 474.0 480.2 481.5 484.0 483.5 485.0 483.5 489.0 484.8 492.0 484.5 495.5 483.5 500.2 481.2 504.0 478.0Z"/>
<path fill="rgb(92, 240, 34)" fill-rule="evenodd" d="M499.5 470.5 497.2 469.5 495.2 469.5 493.2 470.2 489.2 471.0 486.0 472.5 484.8 473.8 483.8 475.8 484.0 479.2 485.5 482.0 487.0 483.5 488.5 484.0 491.2 484.0 494.2 483.0 496.8 481.2 498.2 479.8 500.5 475.2 500.8 472.5Z"/>
<path fill="rgb(168, 240, 1)" fill-rule="evenodd" d="M498.5 470.8 497.2 470.2 495.0 470.5 490.2 472.8 487.2 475.8 486.2 477.8 486.2 480.5 486.8 481.8 488.0 483.0 489.0 483.5 491.0 483.5 492.0 483.0 493.2 481.8 494.2 479.8 499.2 475.0 499.8 474.0 499.8 472.2Z"/>
<path fill="rgb(236, 232, 0)" fill-rule="evenodd" d="M498.2 471.2 497.0 470.8 495.5 471.0 491.0 473.2 487.8 477.0 487.0 478.5 487.2 481.0 488.5 482.5 489.0 482.8 491.5 482.5 492.8 481.0 493.5 478.8 498.8 474.5 499.2 472.8Z"/>
<path fill="rgb(255, 173, 0)" fill-rule="evenodd" d="M497.8 471.5 497.2 471.2 495.5 471.5 491.8 473.5 490.5 474.8 489.8 476.2 488.2 477.5 487.5 479.5 487.8 480.8 488.8 482.0 490.5 482.2 491.5 481.8 492.2 480.5 492.8 478.5 498.2 474.2 498.8 472.8Z"/>
<path fill="rgb(250, 99, 0)" fill-rule="evenodd" d="M497.2 471.8 495.5 472.0 494.2 473.0 492.2 473.8 491.2 474.8 490.8 476.2 488.2 478.8 488.2 480.5 489.0 481.5 489.5 481.8 490.8 481.5 491.8 480.2 492.0 478.0 494.8 476.5 498.0 473.8 498.0 472.5Z"/>
<path fill="rgb(233, 33, 0)" fill-rule="evenodd" d="M489.8 478.0 488.8 479.0 488.8 480.2 489.2 481.0 490.5 481.0 491.2 480.0 491.2 478.8 490.8 478.0ZM497.5 472.8 497.0 472.2 496.2 472.2 495.0 473.2 492.8 474.0 492.0 474.5 491.5 476.2 492.0 476.8 493.2 476.8 494.2 476.2 495.8 474.5 497.2 473.8Z"/></g></g>
<g><g filter="url(#soft)"><path fill="rgb(0, 0, 210)" d="M622.0 463.0 620.5 461.5 619.2 461.0 618.0 461.0 616.0 461.8 607.5 461.5 602.8 462.2 600.5 462.2 597.5 462.8 594.5 464.2 593.5 465.2 593.2 466.0 593.2 468.0 594.0 470.2 594.0 472.0 593.2 473.8 590.2 478.2 590.0 480.5 591.2 482.5 591.8 485.8 592.5 487.2 595.0 488.8 596.5 488.8 597.2 488.2 600.0 488.2 602.0 489.2 603.2 489.2 604.0 489.8 609.2 489.8 613.5 487.5 617.5 483.5 620.0 478.5 621.0 472.5 621.8 470.8 621.8 469.5 622.2 468.8 622.5 467.2 622.5 464.5Z"/>
<path fill="rgb(0, 16, 234)" fill-rule="evenodd" d="M621.2 463.2 620.2 462.2 619.0 461.8 616.2 462.5 607.8 462.0 599.2 463.0 596.8 463.8 594.8 465.0 594.0 466.0 594.0 469.0 594.5 470.0 594.5 472.2 593.8 474.0 591.8 477.0 590.8 479.5 590.8 480.2 592.0 482.2 592.5 485.5 593.2 487.0 595.2 488.0 600.2 487.8 602.2 488.8 603.5 488.8 604.2 489.2 609.0 489.2 613.5 487.0 615.0 485.8 618.2 481.5 619.8 477.8 620.2 473.5 621.8 467.0 621.8 464.8Z"/>
<path fill="rgb(0, 27, 250)" fill-rule="evenodd" d="M620.5 464.0 619.0 462.8 616.8 463.2 606.0 463.0 598.2 464.2 595.2 465.8 594.8 466.8 595.2 469.2 595.2 472.5 594.5 474.5 593.8 475.2 591.8 479.0 591.8 480.2 592.8 481.8 593.8 486.0 595.8 487.2 596.5 486.8 600.0 486.8 604.8 488.5 608.5 488.5 613.0 486.2 616.5 482.8 618.5 478.8 619.2 476.0 619.5 472.5 620.2 470.2 620.2 468.8 620.8 468.0Z"/>
<path fill="rgb(0, 76, 255)" fill-rule="evenodd" d="M619.8 464.5 619.0 463.8 616.8 464.2 608.0 463.8 599.8 464.8 598.0 465.2 595.8 466.5 595.8 468.0 596.2 469.5 596.2 472.0 595.5 474.2 592.5 479.8 593.5 481.2 594.5 485.5 595.8 486.2 597.0 485.8 600.2 486.0 604.5 487.5 609.0 487.5 613.8 484.5 616.5 481.2 618.0 477.8 618.8 471.8 620.0 466.2Z"/>
<path fill="rgb(0, 141, 255)" fill-rule="evenodd" d="M618.8 464.8 615.8 465.2 608.5 464.5 599.2 465.8 596.8 467.0 597.0 472.5 596.2 474.8 593.5 479.8 594.2 480.8 595.2 485.0 595.8 485.2 596.0 485.0 599.0 485.0 605.0 486.8 608.5 486.8 610.2 486.0 612.8 484.2 615.8 481.0 617.2 477.5 618.0 471.0 618.5 470.0 618.5 468.2 619.0 467.0Z"/>
<path fill="rgb(0, 202, 248)" fill-rule="evenodd" d="M618.0 465.8 613.5 466.0 611.0 465.5 607.5 465.5 601.0 466.2 597.8 467.2 597.5 468.0 598.0 471.0 597.5 473.8 596.8 475.8 594.5 479.5 596.0 484.2 599.2 484.2 605.2 486.0 608.2 486.0 612.5 483.5 615.0 480.8 616.5 477.2Z"/>
<path fill="rgb(10, 230, 182)" fill-rule="evenodd" d="M617.2 466.8 615.5 467.0 615.2 466.8 612.0 466.8 610.5 466.2 607.8 466.2 601.5 467.0 598.5 468.0 598.8 472.0 598.2 474.0 595.5 479.5 596.5 483.2 599.2 483.5 604.0 485.0 608.0 485.2 612.0 483.0 614.2 480.8 615.2 478.8 616.0 476.0 616.2 471.2Z"/>
<path fill="rgb(27, 238, 80)" fill-rule="evenodd" d="M615.8 469.5 613.8 467.5 611.5 467.5 610.0 467.0 605.8 467.2 599.8 468.2 599.5 468.5 599.5 472.2 599.0 474.5 596.5 479.2 597.0 482.2 604.8 484.5 608.0 484.5 611.2 482.8 613.5 480.8 614.2 479.5 615.2 476.0 615.2 472.8Z"/>
<path fill="rgb(92, 240, 34)" fill-rule="evenodd" d="M605.8 470.2 603.5 471.2 602.2 472.5 599.0 479.0 598.8 480.5 599.0 481.5 600.5 482.8 605.2 484.0 607.2 484.0 610.2 482.8 612.5 481.0 613.8 479.0 614.2 476.2 611.8 472.8 610.2 471.2 608.0 470.2Z"/>
<path fill="rgb(168, 240, 1)" fill-rule="evenodd" d="M613.0 478.0 611.5 476.2 610.0 475.5 607.8 475.0 605.8 475.2 602.8 476.8 600.5 479.2 600.5 481.0 602.0 482.5 603.8 483.0 608.2 482.8 611.5 481.2 613.0 479.2Z"/>
<path fill="rgb(236, 232, 0)" fill-rule="evenodd" d="M611.8 478.5 610.8 477.2 609.8 476.8 606.5 476.5 603.2 477.8 601.8 479.2 601.5 480.5 602.5 481.8 603.8 482.2 607.2 482.2 609.0 481.8 610.8 480.8 611.8 479.2Z"/>
<path fill="rgb(255, 173, 0)" fill-rule="evenodd" d="M610.5 478.5 609.2 477.5 608.0 477.2 605.8 477.5 603.2 478.8 602.8 479.5 602.8 480.8 604.8 481.8 607.8 481.5 609.5 480.8 610.2 480.0Z"/>
<path fill="rgb(250, 99, 0)" fill-rule="evenodd" d="M609.5 479.0 608.8 478.2 606.5 478.0 604.5 478.8 603.8 480.2 604.8 481.0 607.5 481.0 608.5 480.5Z"/>
<path fill="rgb(233, 33, 0)" fill-rule="evenodd" d="M605.2 480.0 607.2 480.2 608.0 479.2 606.0 479.0 605.2 479.5Z"/></g></g>
<rect x="624.5" y="469" width="5" height="2.2" fill="#1a2ad0"/>
<g><g filter="url(#soft)"><path fill="rgb(0, 0, 210)" d="M405.8 585.0 403.8 583.2 400.8 581.8 397.0 581.0 388.2 581.0 383.8 581.5 382.2 582.0 377.8 582.5 374.2 583.5 372.5 583.5 371.8 584.0 369.0 584.5 366.5 585.8 365.2 586.0 361.5 588.0 357.0 591.2 355.0 593.2 353.2 596.0 352.5 598.2 352.8 604.0 354.5 607.5 356.2 609.2 359.5 611.0 363.5 612.0 368.5 612.2 368.8 612.5 378.0 612.5 378.2 612.2 381.5 612.2 386.2 611.2 391.8 609.2 398.5 605.2 403.5 600.5 406.2 596.5 407.5 593.0 407.5 589.0Z"/>
<path fill="rgb(0, 16, 234)" fill-rule="evenodd" d="M405.0 585.5 403.2 584.0 400.2 582.5 396.8 581.8 388.2 581.8 385.8 582.2 383.2 582.2 374.2 584.2 372.8 584.2 372.0 584.8 369.2 585.2 362.0 588.8 357.5 592.0 355.8 593.8 353.5 598.2 353.8 604.0 355.2 607.0 356.8 608.5 359.5 610.0 363.5 611.0 368.5 611.2 368.8 611.5 378.0 611.5 378.2 611.2 381.5 611.2 386.2 610.2 391.8 608.2 398.0 604.5 402.8 600.0 405.5 596.0 406.8 592.5 406.8 589.5Z"/>
<path fill="rgb(0, 27, 250)" fill-rule="evenodd" d="M405.2 588.2 404.2 586.2 402.5 584.8 400.0 583.5 396.5 582.8 384.5 583.0 383.0 583.5 378.5 584.0 376.5 584.8 373.0 585.2 371.2 586.0 369.5 586.2 362.8 589.5 356.8 594.2 355.0 597.0 354.5 598.5 354.8 603.5 356.0 606.0 357.8 607.8 360.0 609.0 364.0 610.0 369.0 610.5 377.8 610.5 378.0 610.2 381.0 610.2 385.8 609.2 391.2 607.2 392.5 606.2 394.8 605.2 397.5 603.5 401.8 599.5 403.0 598.0 405.0 594.5 405.5 592.8Z"/>
<path fill="rgb(0, 76, 255)" fill-rule="evenodd" d="M404.0 588.0 402.2 585.8 399.8 584.5 396.5 583.8 392.0 583.8 391.8 583.5 389.2 583.5 384.5 584.0 383.0 584.5 381.0 584.5 370.5 587.0 366.2 588.8 362.8 590.8 359.5 593.2 357.2 595.5 355.5 599.0 355.8 603.0 356.5 604.8 358.2 606.8 360.5 608.0 364.2 609.0 369.2 609.5 377.5 609.5 377.8 609.2 380.8 609.2 385.5 608.2 390.2 606.5 397.0 602.5 400.8 599.0 403.5 595.0 404.5 592.5 404.5 589.5Z"/>
<path fill="rgb(0, 141, 255)" fill-rule="evenodd" d="M403.5 589.5 402.8 587.8 401.5 586.5 399.0 585.2 395.8 584.5 388.5 584.5 384.0 585.0 382.5 585.5 380.5 585.5 375.0 587.0 373.8 587.0 365.5 590.2 360.2 594.0 358.2 596.0 357.0 598.0 356.5 599.5 356.8 602.5 357.5 604.2 358.8 605.8 361.0 607.0 364.5 608.0 369.5 608.5 377.2 608.5 377.5 608.2 380.8 608.2 385.0 607.2 390.5 605.2 395.5 602.2 398.0 600.2 401.2 596.8 402.5 594.8 403.5 592.0Z"/>
<path fill="rgb(0, 202, 248)" fill-rule="evenodd" d="M402.5 589.8 401.8 588.0 399.2 586.2 394.2 585.2 388.8 585.2 384.5 585.8 373.0 588.2 370.5 589.0 366.8 590.8 361.0 594.8 359.0 596.8 358.0 598.5 357.8 602.0 359.2 604.8 362.0 606.2 363.8 606.8 369.8 607.5 377.2 607.5 377.5 607.2 380.5 607.2 384.0 606.5 391.0 603.8 395.2 601.2 399.5 597.2 401.8 594.0 402.5 592.0Z"/>
<path fill="rgb(10, 230, 182)" fill-rule="evenodd" d="M401.5 589.8 401.0 588.8 399.2 587.2 397.5 586.5 394.5 586.0 386.2 586.2 380.2 587.2 373.5 589.0 366.5 592.0 362.8 594.5 360.0 597.2 359.0 598.8 358.8 601.8 359.2 603.0 360.8 604.5 362.2 605.2 367.2 606.2 377.2 606.5 377.5 606.2 380.8 606.2 384.0 605.5 389.5 603.5 394.5 600.5 399.0 596.2 400.8 593.8 401.5 591.8Z"/>
<path fill="rgb(27, 238, 80)" fill-rule="evenodd" d="M400.8 590.5 400.2 589.2 399.2 588.2 398.0 587.5 395.0 586.8 389.5 586.5 381.2 587.8 371.2 590.8 366.8 593.0 365.2 594.2 364.5 595.8 364.2 599.2 365.2 601.2 366.5 602.5 370.2 604.2 372.5 604.8 379.0 604.8 382.0 604.2 387.5 602.5 393.2 599.2 399.2 593.8 400.8 591.2Z"/>
<path fill="rgb(92, 240, 34)" fill-rule="evenodd" d="M398.0 589.8 397.0 588.0 394.0 587.2 388.0 587.2 381.0 588.5 377.0 589.8 374.0 591.8 372.0 594.0 371.2 596.8 371.8 598.0 373.0 599.2 375.8 600.2 379.2 600.5 383.8 599.8 388.8 598.0 394.5 594.8 397.2 592.0Z"/>
<path fill="rgb(168, 240, 1)" fill-rule="evenodd" d="M396.0 590.0 395.0 588.5 393.2 587.8 388.0 587.8 383.8 588.5 379.5 590.2 377.0 592.0 375.5 594.2 375.5 596.0 376.8 597.2 379.2 598.0 382.5 598.0 387.2 597.0 392.2 594.8 394.0 593.5 395.5 591.8Z"/>
<path fill="rgb(236, 232, 0)" fill-rule="evenodd" d="M394.2 590.0 393.8 589.2 392.0 588.5 389.2 588.2 385.8 588.8 382.8 589.8 379.8 591.5 378.0 593.5 378.0 595.0 379.5 596.2 382.2 596.8 388.0 595.8 392.8 593.2 394.2 591.2Z"/>
<path fill="rgb(255, 173, 0)" fill-rule="evenodd" d="M393.0 590.8 392.0 589.5 389.0 589.0 385.8 589.5 381.8 591.2 380.0 593.0 380.0 594.5 381.5 595.5 383.2 595.8 387.0 595.2 391.0 593.5 392.8 591.8Z"/>
<path fill="rgb(250, 99, 0)" fill-rule="evenodd" d="M391.5 591.0 391.0 590.2 389.0 589.8 385.8 590.2 383.0 591.5 381.8 592.8 381.8 594.0 383.2 594.8 385.5 594.8 387.8 594.2 390.2 593.0 391.2 592.0Z"/>
<path fill="rgb(233, 33, 0)" fill-rule="evenodd" d="M389.8 591.2 389.0 590.8 386.8 590.8 384.0 592.0 383.5 593.2 384.2 593.8 386.5 593.8 389.0 592.8 389.8 592.0Z"/></g></g>
<g><g filter="url(#soft)"><path fill="rgb(0, 0, 210)" d="M529.0 588.5 528.0 587.0 524.8 584.2 522.0 583.0 518.2 582.2 508.8 581.8 508.5 582.0 505.0 582.0 502.5 582.5 499.2 582.5 492.5 583.2 488.0 584.2 481.8 586.8 478.5 588.8 476.5 590.8 474.0 594.8 473.0 598.0 473.2 604.5 474.2 607.2 476.0 609.5 479.2 611.2 483.2 612.5 487.0 612.8 488.8 613.2 499.8 613.5 507.2 612.2 512.5 610.2 516.5 608.0 523.2 602.0 526.5 598.2 528.5 595.2 529.2 592.8Z"/>
<path fill="rgb(0, 16, 234)" fill-rule="evenodd" d="M528.0 588.5 525.8 586.0 522.8 584.2 515.0 582.8 511.0 582.8 510.8 582.5 505.2 582.8 502.8 583.2 499.5 583.2 492.8 584.0 488.2 585.0 482.2 587.5 479.0 589.5 477.2 591.2 475.2 594.2 474.0 598.0 474.2 604.2 475.0 606.5 476.8 608.8 479.5 610.2 483.5 611.5 487.2 611.8 489.0 612.2 499.5 612.5 499.8 612.2 502.5 612.2 507.2 611.2 514.0 608.5 517.5 606.2 522.5 601.8 525.8 598.0 527.8 594.8 528.5 592.2Z"/>
<path fill="rgb(0, 27, 250)" fill-rule="evenodd" d="M527.2 589.8 524.8 586.8 522.2 585.2 518.0 584.2 512.5 584.0 510.5 583.5 495.0 584.8 488.5 586.0 483.0 588.2 479.8 590.2 478.2 591.8 476.2 594.8 475.0 598.2 475.2 603.8 476.0 606.0 477.2 607.8 480.0 609.2 484.0 610.5 487.8 610.8 489.5 611.2 499.2 611.5 507.0 610.2 511.5 608.5 516.5 605.8 521.8 601.0 524.0 598.5 526.8 594.5 527.2 592.5Z"/>
<path fill="rgb(0, 76, 255)" fill-rule="evenodd" d="M526.2 590.0 524.0 587.5 521.2 586.0 517.8 585.2 511.8 585.0 510.2 584.5 502.8 585.2 499.2 585.2 494.8 586.0 492.8 586.0 489.5 586.8 483.2 589.2 482.5 590.0 480.5 591.0 479.0 592.5 476.8 596.2 476.0 598.8 476.0 602.0 477.0 605.5 478.2 607.0 480.5 608.2 484.5 609.5 487.0 609.5 490.0 610.2 498.8 610.5 499.0 610.2 501.8 610.2 506.5 609.2 513.2 606.5 515.8 605.0 519.0 602.2 523.2 597.8 525.2 595.0 526.2 592.2Z"/>
<path fill="rgb(0, 141, 255)" fill-rule="evenodd" d="M525.2 590.5 523.5 588.5 520.8 587.0 517.5 586.2 512.5 586.0 510.2 585.5 500.2 586.0 496.0 586.5 494.5 587.0 492.8 587.0 489.8 587.8 484.5 589.8 481.2 591.8 479.8 593.2 478.0 596.0 477.2 598.2 477.2 602.8 478.0 605.0 478.8 606.0 481.0 607.2 485.0 608.5 487.2 608.5 489.0 609.0 493.2 609.0 493.5 609.2 501.5 609.2 506.2 608.2 512.5 605.8 515.0 604.2 518.0 601.8 521.0 598.8 524.5 594.2 525.0 593.0Z"/>
<path fill="rgb(0, 202, 248)" fill-rule="evenodd" d="M524.2 590.8 522.8 589.2 519.8 587.8 510.5 586.5 499.8 587.0 493.5 587.8 490.5 588.5 484.0 591.2 480.5 594.0 478.8 597.0 478.2 598.8 478.5 603.2 479.0 604.5 480.0 605.5 485.2 607.5 487.5 607.5 489.2 608.0 493.5 608.0 493.8 608.2 501.5 608.2 502.8 607.8 505.2 607.5 512.2 604.8 517.8 600.8 521.5 596.8 523.8 593.5Z"/>
<path fill="rgb(10, 230, 182)" fill-rule="evenodd" d="M523.2 591.2 522.5 590.2 519.8 588.8 514.5 587.8 503.8 587.5 493.2 588.8 488.2 590.2 487.8 590.8 485.0 591.8 482.8 593.2 481.5 594.5 479.8 597.5 479.2 599.0 479.2 602.0 480.0 604.0 480.8 604.8 485.5 606.5 487.8 606.5 489.5 607.0 493.5 607.0 493.8 607.2 501.5 607.2 502.8 606.8 505.2 606.5 511.2 604.2 513.8 602.8 517.5 599.8 520.8 596.2 522.5 593.5Z"/>
<path fill="rgb(27, 238, 80)" fill-rule="evenodd" d="M521.5 592.5 519.5 590.2 517.2 589.0 511.0 588.2 500.2 588.5 493.8 589.5 487.2 591.8 485.0 593.0 484.2 594.5 484.0 596.2 485.0 599.0 487.2 601.2 489.8 602.8 496.0 604.8 503.5 605.2 507.5 604.8 513.2 602.0 518.2 597.8 520.5 595.0 521.5 593.2Z"/>
<path fill="rgb(92, 240, 34)" fill-rule="evenodd" d="M518.0 594.0 517.8 593.0 516.8 591.8 513.5 590.0 509.0 589.0 503.2 589.0 498.2 589.5 494.2 590.8 491.2 592.5 490.2 593.5 489.5 594.8 489.2 596.0 489.8 597.5 490.8 598.8 494.5 600.8 499.5 601.8 504.2 601.8 510.2 600.5 513.8 599.0 517.0 596.5 517.8 595.2Z"/>
<path fill="rgb(168, 240, 1)" fill-rule="evenodd" d="M515.5 593.5 514.2 592.0 510.5 590.5 507.0 590.0 501.5 590.2 498.0 591.0 495.0 592.2 492.5 594.5 492.2 596.2 493.5 598.0 496.5 599.5 501.2 600.2 505.8 600.0 510.5 598.8 513.5 597.2 515.2 595.5Z"/>
<path fill="rgb(236, 232, 0)" fill-rule="evenodd" d="M494.5 596.2 495.5 597.5 497.5 598.5 499.8 599.0 505.5 599.0 508.0 598.5 511.2 597.2 513.5 595.2 513.8 594.0 513.0 592.8 510.5 591.5 508.2 591.0 502.8 591.0 500.0 591.5 496.2 593.0 494.8 594.5Z"/>
<path fill="rgb(255, 173, 0)" fill-rule="evenodd" d="M496.2 595.8 497.5 597.2 499.5 598.0 504.8 598.2 507.5 597.8 510.5 596.5 512.0 595.0 512.0 594.0 511.2 593.0 509.0 592.0 502.8 591.8 498.0 593.2 496.8 594.2Z"/>
<path fill="rgb(250, 99, 0)" fill-rule="evenodd" d="M498.0 595.5 498.8 596.5 500.5 597.2 504.8 597.5 507.2 597.0 509.0 596.2 510.0 595.5 510.2 594.0 509.5 593.2 507.5 592.5 502.8 592.5 499.2 593.8 498.5 594.2Z"/>
<path fill="rgb(233, 33, 0)" fill-rule="evenodd" d="M500.0 595.5 501.5 596.5 504.2 596.8 507.8 595.8 508.5 595.0 508.5 594.2 506.8 593.2 503.0 593.2 500.5 594.2Z"/></g></g>
<g><g filter="url(#soft)"><path fill="rgb(0, 0, 210)" d="M594.8 608.5 596.5 610.2 601.2 612.0 606.5 612.0 610.8 611.5 625.2 612.0 627.2 611.0 628.5 609.5 628.5 607.8 628.0 606.5 628.0 605.8 629.2 604.8 634.5 603.8 637.5 601.5 639.0 598.5 639.2 597.2 639.0 595.0 638.5 594.0 637.0 592.5 634.0 590.8 631.8 588.8 626.5 585.8 624.0 584.8 617.2 584.5 613.8 585.0 611.5 586.0 609.5 586.2 607.5 584.8 605.5 584.0 603.2 584.2 599.0 587.8 597.0 590.8 596.0 593.2 595.8 598.0 596.5 600.0 596.5 602.0 595.0 604.5Z"/>
<path fill="rgb(0, 16, 234)" fill-rule="evenodd" d="M595.5 608.0 597.0 609.5 601.5 611.2 606.2 611.2 610.8 610.8 611.2 611.0 616.2 610.8 620.8 611.2 625.0 611.2 627.0 610.2 627.8 609.2 627.2 606.5 627.8 605.0 629.0 604.2 634.0 603.2 637.0 601.0 638.2 598.5 638.5 597.2 638.2 595.0 636.5 593.0 632.2 590.2 631.2 589.2 623.8 585.5 616.0 585.2 614.0 585.5 610.8 586.8 609.2 586.8 607.0 585.2 605.2 584.8 603.5 585.0 599.5 588.2 597.5 591.2 596.5 593.8 596.2 597.8 597.0 599.8 597.0 602.5 595.8 604.8Z"/>
<path fill="rgb(0, 27, 250)" fill-rule="evenodd" d="M596.5 608.0 599.0 609.5 601.5 610.2 605.0 610.2 605.2 610.5 610.0 610.0 624.8 610.2 626.8 609.0 626.5 605.2 627.8 604.0 629.0 603.2 634.0 602.2 636.2 600.5 637.2 598.8 637.5 595.8 636.2 593.8 633.2 592.0 632.2 591.0 625.8 587.2 623.2 586.2 617.8 586.0 613.8 586.5 611.0 587.5 608.8 587.5 608.0 586.8 606.2 586.0 604.0 585.8 600.5 588.5 598.5 591.5 597.5 593.8 597.2 597.8 598.0 600.0 598.0 602.5 596.5 605.5Z"/>
<path fill="rgb(0, 76, 255)" fill-rule="evenodd" d="M597.2 607.0 597.8 607.8 602.2 609.5 615.2 609.2 615.5 609.0 624.2 609.5 625.8 608.8 625.5 605.5 626.2 604.0 628.5 602.5 632.8 601.8 634.8 600.8 636.5 598.5 636.8 596.2 636.5 595.5 635.2 594.2 632.8 592.8 631.8 591.8 623.5 587.2 616.2 587.0 609.5 588.5 608.2 588.2 604.8 586.5 604.0 586.8 601.2 589.0 599.0 592.2 598.0 595.8 598.2 598.5 598.8 599.2 598.8 603.0 597.5 605.2Z"/>
<path fill="rgb(0, 141, 255)" fill-rule="evenodd" d="M598.2 607.0 601.8 608.5 610.0 608.5 610.2 608.2 624.2 608.5 624.8 608.2 624.5 606.2 625.0 604.2 627.0 602.2 628.0 601.8 632.5 601.0 634.0 600.2 635.5 598.5 636.0 596.8 635.5 595.5 633.2 593.8 632.0 593.2 630.2 591.8 623.0 588.0 617.2 587.8 614.8 588.0 610.8 589.2 609.0 589.2 604.8 587.5 601.5 590.2 599.8 592.8 599.0 595.2 599.0 597.8 599.8 600.0 599.8 602.2 599.5 603.5 598.2 606.0Z"/>
<path fill="rgb(0, 202, 248)" fill-rule="evenodd" d="M599.2 606.5 602.2 607.8 606.2 607.8 606.5 607.5 623.0 607.8 623.8 607.5 623.8 605.5 624.2 603.8 626.2 601.8 627.5 601.0 633.2 599.8 634.5 598.5 635.0 597.5 635.0 596.5 634.8 596.0 629.5 592.2 622.5 588.8 617.8 588.5 614.2 589.0 611.0 590.0 608.5 590.0 604.8 588.5 602.5 590.2 600.8 592.8 600.0 594.8 599.8 597.2 600.5 599.8 600.5 603.2Z"/>
<path fill="rgb(10, 230, 182)" fill-rule="evenodd" d="M634.2 596.8 629.0 593.0 627.5 592.5 626.2 591.5 622.2 589.5 617.5 589.2 615.2 589.5 611.0 590.8 608.0 590.8 605.0 589.5 603.2 590.8 601.5 593.2 600.8 595.0 600.8 597.5 601.2 599.2 601.2 604.0 600.2 606.0 602.0 606.8 604.5 607.0 615.5 606.8 615.8 606.5 622.8 606.8 623.2 604.0 623.8 603.0 625.5 601.2 627.0 600.2 630.5 599.8 632.8 599.0 633.5 598.5Z"/>
<path fill="rgb(27, 238, 80)" fill-rule="evenodd" d="M633.2 597.2 628.5 593.8 622.2 590.2 616.5 590.0 610.8 591.5 607.5 591.5 605.2 590.5 603.0 592.5 601.5 595.5 601.5 597.2 602.0 599.0 602.0 604.2 605.2 606.2 605.8 606.0 614.0 606.0 614.2 605.8 619.0 606.0 621.8 604.5 623.2 602.2 626.5 599.5 632.0 598.5Z"/>
<path fill="rgb(92, 240, 34)" fill-rule="evenodd" d="M621.8 592.5 621.0 591.8 619.0 591.0 614.8 591.0 613.8 591.5 611.8 591.8 608.8 593.0 605.5 595.8 604.2 598.0 604.0 601.5 604.5 602.5 606.8 604.0 611.5 604.2 614.0 603.8 617.5 602.2 620.5 599.5 621.8 597.5 622.2 596.0 622.2 593.5Z"/>
<path fill="rgb(168, 240, 1)" fill-rule="evenodd" d="M620.5 593.8 619.2 592.5 616.5 592.0 613.5 592.5 610.0 594.0 608.2 595.2 606.5 597.2 605.8 598.8 606.0 601.5 606.8 602.2 608.8 603.0 612.0 602.8 615.5 601.5 618.0 599.8 620.0 597.2 620.5 596.0Z"/>
<path fill="rgb(236, 232, 0)" fill-rule="evenodd" d="M619.0 594.0 617.2 593.0 615.2 593.0 611.0 594.5 609.5 595.5 607.5 597.8 607.0 598.8 607.2 601.0 608.2 601.8 611.0 602.0 613.8 601.2 615.8 600.2 618.8 597.2 619.2 596.2Z"/>
<path fill="rgb(255, 173, 0)" fill-rule="evenodd" d="M618.2 595.0 617.2 594.0 616.2 593.8 614.0 594.0 611.5 595.0 609.8 596.2 608.5 597.8 608.0 599.2 608.2 600.2 609.2 601.0 612.2 601.0 614.8 600.0 616.5 598.8 617.8 597.2Z"/>
<path fill="rgb(250, 99, 0)" fill-rule="evenodd" d="M617.0 595.2 616.5 594.8 615.0 594.5 611.5 595.8 609.5 597.8 609.2 599.5 610.0 600.2 612.2 600.2 614.2 599.5 615.8 598.5 616.8 597.2 617.2 596.0Z"/>
<path fill="rgb(233, 33, 0)" fill-rule="evenodd" d="M616.0 596.0 615.5 595.5 613.0 595.8 612.0 596.2 610.5 597.8 610.2 598.5 611.2 599.5 613.2 599.2 614.2 598.8 615.8 597.2Z"/></g></g>
<rect x="345.5" y="452" width="76.80000000000001" height="49.80000000000001" fill="none" stroke="#333" stroke-width="1.1"/>
<line x1="383.6" y1="452" x2="383.6" y2="501.8" stroke="#111" stroke-width="1.2" />
<rect x="466.1" y="453.2" width="76.60000000000002" height="50.0" fill="none" stroke="#333" stroke-width="1.1"/>
<line x1="504.3" y1="453.2" x2="504.3" y2="503.2" stroke="#111" stroke-width="1.2" />
<rect x="588" y="452.3" width="76" height="49.30000000000001" fill="none" stroke="#333" stroke-width="1.1"/>
<line x1="625.9" y1="452.3" x2="625.9" y2="501.6" stroke="#111" stroke-width="1.2" />
<rect x="345.5" y="575.5" width="76.10000000000002" height="50.5" fill="none" stroke="#333" stroke-width="1.1"/>
<line x1="383.6" y1="575.5" x2="383.6" y2="626" stroke="#111" stroke-width="1.2" />
<rect x="467" y="574.5" width="76.5" height="49.89999999999998" fill="none" stroke="#333" stroke-width="1.1"/>
<line x1="505.6" y1="574.5" x2="505.6" y2="624.4" stroke="#111" stroke-width="1.2" />
<rect x="588" y="575.6" width="75.89999999999998" height="49.89999999999998" fill="none" stroke="#333" stroke-width="1.1"/>
<line x1="626.4" y1="575.6" x2="626.4" y2="625.5" stroke="#111" stroke-width="1.2" />
<text x="30.9" y="733" font-size="24.5" font-weight="bold" text-anchor="start" fill="#111" stroke="#111" stroke-width="0.3" >F</text>
<line x1="58.3" y1="759.7" x2="58.3" y2="939" stroke="#111" stroke-width="2" />
<line x1="57.3" y1="938" x2="183.2" y2="938" stroke="#111" stroke-width="2" />
<line x1="53.7" y1="759.7" x2="58.3" y2="759.7" stroke="#111" stroke-width="1.8" />
<text x="52.8" y="764.7" font-size="14" text-anchor="end" fill="#222" stroke="#222" stroke-width="0.3" >80</text>
<line x1="53.7" y1="804.4" x2="58.3" y2="804.4" stroke="#111" stroke-width="1.8" />
<text x="52.8" y="809.4" font-size="14" text-anchor="end" fill="#222" stroke="#222" stroke-width="0.3" >60</text>
<line x1="53.7" y1="848.9" x2="58.3" y2="848.9" stroke="#111" stroke-width="1.8" />
<text x="52.8" y="853.9" font-size="14" text-anchor="end" fill="#222" stroke="#222" stroke-width="0.3" >40</text>
<line x1="53.7" y1="893.2" x2="58.3" y2="893.2" stroke="#111" stroke-width="1.8" />
<text x="52.8" y="898.2" font-size="14" text-anchor="end" fill="#222" stroke="#222" stroke-width="0.3" >20</text>
<line x1="53.7" y1="938" x2="58.3" y2="938" stroke="#111" stroke-width="1.8" />
<text x="52.8" y="943" font-size="14" text-anchor="end" fill="#222" stroke="#222" stroke-width="0.3" >0</text>
<line x1="71.55" y1="806" x2="71.55" y2="801.4" stroke="#111" stroke-width="1.9" />
<line x1="67.075" y1="801.4" x2="76.02499999999999" y2="801.4" stroke="#111" stroke-width="1.9" />
<rect x="62.6" y="806" width="17.9" height="132" fill="#fff" stroke="#111" stroke-width="1.9"/>
<line x1="98.2" y1="858.4" x2="98.2" y2="850.8" stroke="#111" stroke-width="1.9" />
<line x1="93.6" y1="850.8" x2="102.80000000000001" y2="850.8" stroke="#111" stroke-width="1.9" />
<rect x="89" y="858.4" width="18.400000000000006" height="79.60000000000002" fill="#8c8c8c" stroke="#111" stroke-width="1.9"/>
<line x1="142.45" y1="850" x2="142.45" y2="845.4" stroke="#111" stroke-width="1.9" />
<line x1="137.975" y1="845.4" x2="146.92499999999998" y2="845.4" stroke="#111" stroke-width="1.9" />
<rect x="133.5" y="850" width="17.900000000000006" height="88" fill="#fff" stroke="#111" stroke-width="1.9"/>
<line x1="168.9" y1="795.1" x2="168.9" y2="787.3" stroke="#111" stroke-width="1.9" />
<line x1="164.35000000000002" y1="787.3" x2="173.45" y2="787.3" stroke="#111" stroke-width="1.9" />
<rect x="159.8" y="795.1" width="18.19999999999999" height="142.89999999999998" fill="#8c8c8c" stroke="#111" stroke-width="1.9"/>
<line x1="71.2" y1="793.5" x2="99" y2="793.5" stroke="#111" stroke-width="1.8" />
<text x="85.1" y="793.0" font-size="12" text-anchor="middle" fill="#222" stroke="#222" stroke-width="0.3" >***</text>
<line x1="142.5" y1="776.8" x2="167.7" y2="776.8" stroke="#111" stroke-width="1.8" />
<text x="155.1" y="776.3" font-size="12" text-anchor="middle" fill="#222" stroke="#222" stroke-width="0.3" >***</text>
<rect x="196.6" y="765.8" width="16.0" height="9.200000000000045" fill="#fff" stroke="#333" stroke-width="1.3"/>
<rect x="196.6" y="782.3" width="16.0" height="9.300000000000068" fill="#8c8c8c" stroke="#333" stroke-width="1.3"/>
<text x="221" y="775.1" font-size="13.5" text-anchor="start" fill="#222" stroke="#222" stroke-width="0.3" >Young</text>
<text x="221" y="791.9" font-size="13.5" text-anchor="start" fill="#222" stroke="#222" stroke-width="0.3" >Aging</text>
<text x="67.5" y="957.2" font-size="13.3" text-anchor="start" fill="#222" stroke="#222" stroke-width="0.3" >CD41<tspan font-size="11" dy="-4.5">-</tspan></text>
<text x="139.2" y="957.2" font-size="13.3" text-anchor="start" fill="#222" stroke="#222" stroke-width="0.3" >CD41<tspan font-size="11" dy="-4.5">+</tspan></text>
<text transform="translate(14.5,847) rotate(-90)" font-size="13" text-anchor="middle" dominant-baseline="central" fill="#222" stroke="#222" stroke-width="0.3">% of Total HSCs</text>
<text x="310.9" y="732.3" font-size="24.5" font-weight="bold" text-anchor="start" fill="#111" stroke="#111" stroke-width="0.3" >G</text>
<line x1="368.3" y1="759" x2="368.3" y2="937.8" stroke="#111" stroke-width="2" />
<line x1="367.3" y1="936.8" x2="540.4" y2="936.8" stroke="#111" stroke-width="2" />
<line x1="363.5" y1="759.0" x2="368.3" y2="759.0" stroke="#111" stroke-width="1.8" />
<text x="363.5" y="764.0" font-size="14" text-anchor="end" fill="#222" stroke="#222" stroke-width="0.3" >12</text>
<line x1="363.5" y1="788.6333333333333" x2="368.3" y2="788.6333333333333" stroke="#111" stroke-width="1.8" />
<text x="363.5" y="793.6333333333333" font-size="14" text-anchor="end" fill="#222" stroke="#222" stroke-width="0.3" >10</text>
<line x1="363.5" y1="818.2666666666667" x2="368.3" y2="818.2666666666667" stroke="#111" stroke-width="1.8" />
<text x="363.5" y="823.2666666666667" font-size="14" text-anchor="end" fill="#222" stroke="#222" stroke-width="0.3" >8</text>
<line x1="363.5" y1="847.9" x2="368.3" y2="847.9" stroke="#111" stroke-width="1.8" />
<text x="363.5" y="852.9" font-size="14" text-anchor="end" fill="#222" stroke="#222" stroke-width="0.3" >6</text>
<line x1="363.5" y1="877.5333333333333" x2="368.3" y2="877.5333333333333" stroke="#111" stroke-width="1.8" />
<text x="363.5" y="882.5333333333333" font-size="14" text-anchor="end" fill="#222" stroke="#222" stroke-width="0.3" >4</text>
<line x1="363.5" y1="907.1666666666666" x2="368.3" y2="907.1666666666666" stroke="#111" stroke-width="1.8" />
<text x="363.5" y="912.1666666666666" font-size="14" text-anchor="end" fill="#222" stroke="#222" stroke-width="0.3" >2</text>
<line x1="363.5" y1="936.8" x2="368.3" y2="936.8" stroke="#111" stroke-width="1.8" />
<text x="363.5" y="941.8" font-size="14" text-anchor="end" fill="#222" stroke="#222" stroke-width="0.3" >0</text>
<line x1="387.75" y1="790.5" x2="387.75" y2="767.6" stroke="#111" stroke-width="1.9" />
<line x1="383.675" y1="767.6" x2="391.825" y2="767.6" stroke="#111" stroke-width="1.9" />
<rect x="379.6" y="790.5" width="16.299999999999955" height="146.29999999999995" fill="#11e33a" stroke="#111" stroke-width="1.9"/>
<line x1="411.25" y1="915.5" x2="411.25" y2="913.5" stroke="#111" stroke-width="1.9" />
<line x1="407.025" y1="913.5" x2="415.475" y2="913.5" stroke="#111" stroke-width="1.9" />
<rect x="402.8" y="915.5" width="16.899999999999977" height="21.299999999999955" fill="#8c8c8c" stroke="#111" stroke-width="1.9"/>
<line x1="434.55" y1="912.5" x2="434.55" y2="910.5" stroke="#111" stroke-width="1.9" />
<line x1="430.425" y1="910.5" x2="438.675" y2="910.5" stroke="#111" stroke-width="1.9" />
<rect x="426.3" y="912.5" width="16.5" height="24.299999999999955" fill="#fff" stroke="#111" stroke-width="1.9"/>
<line x1="473.95000000000005" y1="892.2" x2="473.95000000000005" y2="881.1" stroke="#111" stroke-width="1.9" />
<line x1="469.87500000000006" y1="881.1" x2="478.02500000000003" y2="881.1" stroke="#111" stroke-width="1.9" />
<rect x="465.8" y="892.2" width="16.30000000000001" height="44.59999999999991" fill="#11e33a" stroke="#111" stroke-width="1.9"/>
<line x1="497.45000000000005" y1="928.4" x2="497.45000000000005" y2="926.5" stroke="#111" stroke-width="1.9" />
<line x1="493.37500000000006" y1="926.5" x2="501.52500000000003" y2="926.5" stroke="#111" stroke-width="1.9" />
<rect x="489.3" y="928.4" width="16.30000000000001" height="8.399999999999977" fill="#8c8c8c" stroke="#111" stroke-width="1.9"/>
<line x1="521.25" y1="928" x2="521.25" y2="926" stroke="#111" stroke-width="1.9" />
<line x1="517.125" y1="926" x2="525.375" y2="926" stroke="#111" stroke-width="1.9" />
<rect x="513" y="928" width="16.5" height="8.799999999999955" fill="#fff" stroke="#111" stroke-width="1.9"/>
<path d="M388.5 762 H423 V893" stroke="#111" stroke-width="1.8" fill="none" />
<line x1="411.8" y1="893" x2="435.6" y2="893" stroke="#111" stroke-width="1.8" />
<text x="405" y="762" font-size="12" text-anchor="middle" fill="#222" stroke="#222" stroke-width="0.3" >***</text>
<path d="M474.8 855.8 H509 V914" stroke="#111" stroke-width="1.8" fill="none" />
<line x1="496.3" y1="914" x2="520" y2="914" stroke="#111" stroke-width="1.8" />
<text x="492.7" y="856" font-size="12" text-anchor="middle" fill="#222" stroke="#222" stroke-width="0.3" >*</text>
<text x="392" y="952.3" font-size="13.5" text-anchor="start" fill="#222" stroke="#222" stroke-width="0.3" >Young</text>
<text x="480.5" y="952.3" font-size="13.5" text-anchor="start" fill="#222" stroke="#222" stroke-width="0.3" >Aging</text>
<rect x="470.6" y="761.8" width="16.399999999999977" height="9.200000000000045" fill="#11e33a" stroke="#333" stroke-width="1.4"/>
<rect x="470.6" y="778.6" width="16.399999999999977" height="9.299999999999955" fill="#8c8c8c" stroke="#333" stroke-width="1.4"/>
<rect x="470.6" y="794.7" width="16.399999999999977" height="9.399999999999977" fill="#fff" stroke="#333" stroke-width="1.4"/>
<text x="495" y="772.2" font-size="13.5" text-anchor="start" fill="#222" stroke="#222" stroke-width="0.3" >GFP<tspan font-size="10.5" dy="-3.6">Hi</tspan></text>
<text x="495" y="788.6" font-size="13.5" text-anchor="start" fill="#222" stroke="#222" stroke-width="0.3" >GFP<tspan font-size="10.5" dy="-3.6">Lo</tspan></text>
<text x="495.6" y="804.2" font-size="13.8" text-anchor="start" fill="#222" stroke="#222" stroke-width="0.3" >Total</text>
<text transform="translate(329.8,844.5) rotate(-90)" font-size="14" text-anchor="middle" dominant-baseline="central" fill="#222" stroke="#222" stroke-width="0.3">CD41<tspan font-size="11" dy="-1.5">-</tspan><tspan dy="1.5"> /CD41</tspan><tspan font-size="10.5" dy="-4.5">+</tspan></text>
</svg></body></html>
